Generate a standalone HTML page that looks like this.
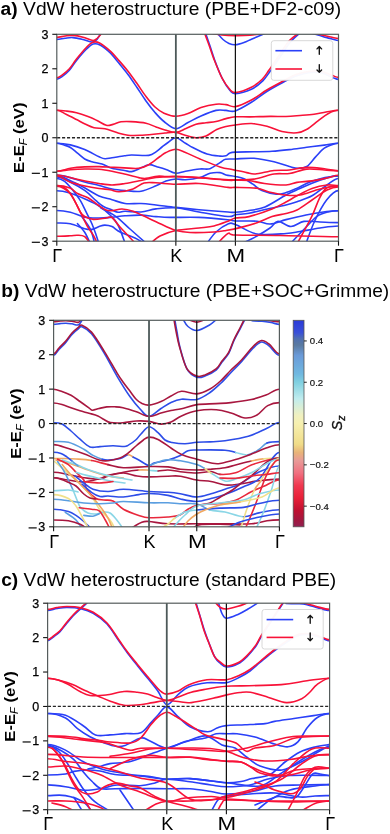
<!DOCTYPE html><html><head><meta charset="utf-8"><style>html,body{margin:0;padding:0;background:#fff;width:390px;height:834px;overflow:hidden;position:relative}</style></head><body><svg width="390" height="834" viewBox="0 0 390 834" style="position:absolute;left:0;top:0;will-change:transform">
<g font-family='"Liberation Sans", sans-serif' fill="#000">
<text x="0.6" y="14.6" font-size="18" textLength="340.5" lengthAdjust="spacingAndGlyphs"><tspan font-weight="bold">a)</tspan> VdW heterostructure (PBE+DF2-c09)</text>
<text x="1.2" y="297.4" font-size="18" textLength="388" lengthAdjust="spacingAndGlyphs"><tspan font-weight="bold">b)</tspan> VdW heterostructure (PBE+SOC+Grimme)</text>
<text x="1.2" y="585.6" font-size="18" textLength="335" lengthAdjust="spacingAndGlyphs"><tspan font-weight="bold">c)</tspan> VdW heterostructure (standard PBE)</text>
</g>
<defs><clipPath id="clipa"><rect x="56.80" y="34.30" width="281.70" height="206.90"/></clipPath></defs>
<g clip-path="url(#clipa)" fill="none" stroke-linecap="round" stroke-linejoin="round">
<path d="M56.80,39.40 C59.53,39.40 62.30,38.50 65.00,38.20 C67.70,37.90 70.00,37.38 73.00,37.60 C76.00,37.82 79.83,38.77 83.00,39.50 C86.17,40.23 89.75,41.92 92.00,42.00 C94.25,42.08 95.00,41.50 96.50,40.00 C98.00,38.50 100.25,34.17 101.00,33.00" stroke="#2a40f8" stroke-width="1.60"/>
<path d="M56.80,79.20 C58.43,79.20 59.60,78.40 61.70,76.90 C63.80,75.40 66.93,72.93 69.40,70.20 C71.87,67.47 73.60,64.07 76.50,60.50 C79.40,56.93 84.05,51.55 86.80,48.80 C89.55,46.05 90.80,44.63 93.00,44.00 C95.20,43.37 97.17,43.55 100.00,45.00 C102.83,46.45 106.83,49.65 110.00,52.70 C113.17,55.75 116.00,59.67 119.00,63.30 C122.00,66.93 125.00,70.47 128.00,74.50 C131.00,78.53 134.00,83.08 137.00,87.50 C140.00,91.92 143.00,96.83 146.00,101.00 C149.00,105.17 152.00,109.08 155.00,112.50 C158.00,115.92 160.53,118.82 164.00,121.50 C167.47,124.18 171.85,128.43 175.85,128.60 C179.85,128.77 183.81,124.60 188.00,122.50 C192.19,120.40 196.33,118.02 201.00,116.00 C205.67,113.98 211.83,111.33 216.00,110.40 C220.17,109.47 222.77,110.32 226.00,110.40 C229.23,110.48 231.17,112.25 235.40,110.90 C239.63,109.55 246.17,105.53 251.40,102.30 C256.63,99.07 261.42,94.88 266.80,91.50 C272.18,88.12 278.83,84.58 283.70,82.00 C288.57,79.42 291.62,77.58 296.00,76.00 C300.38,74.42 305.67,73.00 310.00,72.50 C314.33,72.00 318.25,72.18 322.00,73.00 C325.75,73.82 329.75,76.33 332.50,77.40 C335.25,78.47 336.50,79.40 338.50,79.40" stroke="#2a40f8" stroke-width="1.60"/>
<path d="M205.50,33.00 C206.25,35.17 208.42,41.33 210.00,46.00 C211.58,50.67 212.92,55.50 215.00,61.00 C217.08,66.50 220.00,74.08 222.50,79.00 C225.00,83.92 227.85,88.07 230.00,90.50 C232.15,92.93 231.83,93.82 235.40,93.60 C238.97,93.38 246.83,91.33 251.40,89.20 C255.97,87.07 259.70,83.75 262.80,80.80 C265.90,77.85 267.13,75.47 270.00,71.50 C272.87,67.53 276.67,61.83 280.00,57.00 C283.33,52.17 286.67,46.50 290.00,42.50 C293.33,38.50 298.33,34.58 300.00,33.00" stroke="#2a40f8" stroke-width="1.60"/>
<path d="M217.00,33.00 C218.00,34.08 221.00,37.75 223.00,39.50 C225.00,41.25 226.93,42.62 229.00,43.50 C231.07,44.38 232.90,44.97 235.40,44.80 C237.90,44.63 241.23,43.47 244.00,42.50 C246.77,41.53 248.33,40.58 252.00,39.00 C255.67,37.42 263.67,34.00 266.00,33.00" stroke="#2a40f8" stroke-width="1.60"/>
<path d="M310.00,33.00 C311.33,33.33 315.30,34.25 318.00,35.00 C320.70,35.75 323.87,36.83 326.20,37.50 C328.53,38.17 329.95,38.50 332.00,39.00 C334.05,39.50 336.33,40.50 338.50,40.50" stroke="#2a40f8" stroke-width="1.60"/>
<path d="M56.80,143.20 C61.33,143.20 65.75,143.83 70.40,144.90 C75.05,145.97 79.92,147.62 84.70,149.60 C89.48,151.58 95.72,155.27 99.10,156.80 C102.48,158.33 102.85,158.63 105.00,158.80 C107.15,158.97 108.77,158.30 112.00,157.80 C115.23,157.30 121.15,156.27 124.40,155.80 C127.65,155.33 127.43,155.07 131.50,155.00 C135.57,154.93 144.72,155.93 148.80,155.40 C152.88,154.87 153.80,153.20 156.00,151.80 C158.20,150.40 160.00,148.55 162.00,147.00 C164.00,145.45 165.69,144.03 168.00,142.50 C170.31,140.97 172.93,137.68 175.85,137.80 C178.77,137.92 182.69,141.58 185.50,143.20 C188.31,144.82 189.12,145.70 192.70,147.50 C196.28,149.30 202.45,152.57 207.00,154.00 C211.55,155.43 216.83,155.80 220.00,156.10 C223.17,156.40 224.42,156.28 226.00,155.80 C227.58,155.32 227.93,153.82 229.50,153.20 C231.07,152.58 231.32,152.33 235.40,152.10 C239.48,151.87 247.90,151.93 254.00,151.80 C260.10,151.67 266.10,151.67 272.00,151.30 C277.90,150.93 283.60,150.27 289.40,149.60 C295.20,148.93 300.98,148.05 306.80,147.30 C312.62,146.55 319.02,145.78 324.30,145.10 C329.58,144.42 333.77,143.20 338.50,143.20" stroke="#2a40f8" stroke-width="1.60"/>
<path d="M56.80,143.20 C59.20,143.20 61.73,144.28 64.00,145.00 C66.27,145.72 68.15,146.13 70.40,147.50 C72.65,148.87 75.12,151.28 77.50,153.20 C79.88,155.12 82.30,157.57 84.70,159.00 C87.10,160.43 89.02,160.97 91.90,161.80 C94.78,162.63 98.65,162.92 102.00,164.00 C105.35,165.08 108.27,167.22 112.00,168.30 C115.73,169.38 121.15,169.95 124.40,170.50 C127.65,171.05 129.12,171.85 131.50,171.60 C133.88,171.35 135.82,170.15 138.70,169.00 C141.58,167.85 145.68,165.05 148.80,164.70 C151.92,164.35 154.53,166.10 157.40,166.90 C160.27,167.70 162.93,168.43 166.00,169.50 C169.07,170.57 172.60,173.02 175.85,173.30 C179.10,173.58 181.49,171.92 185.50,171.20 C189.51,170.48 195.82,169.42 199.90,169.00 C203.98,168.58 206.65,169.77 210.00,168.70 C213.35,167.63 217.42,164.17 220.00,162.60 C222.58,161.03 222.93,159.90 225.50,159.30 C228.07,158.70 230.65,159.17 235.40,159.00 C240.15,158.83 247.57,157.83 254.00,158.30 C260.43,158.77 268.10,160.43 274.00,161.80 C279.90,163.17 285.40,165.42 289.40,166.50 C293.40,167.58 295.10,168.30 298.00,168.30 C300.90,168.30 303.87,168.40 306.80,166.50 C309.73,164.60 312.68,159.95 315.60,156.90 C318.52,153.85 321.10,150.38 324.30,148.20 C327.50,146.02 332.43,144.63 334.80,143.80 C337.17,142.97 337.27,143.20 338.50,143.20" stroke="#2a40f8" stroke-width="1.60"/>
<path d="M56.80,175.60 C61.20,175.60 65.30,178.43 70.00,180.50 C74.70,182.57 80.17,185.42 85.00,188.00 C89.83,190.58 94.50,194.05 99.00,196.00 C103.50,197.95 107.67,198.45 112.00,199.70 C116.33,200.95 120.17,202.87 125.00,203.50 C129.83,204.13 135.83,203.25 141.00,203.50 C146.17,203.75 150.19,204.35 156.00,205.00 C161.81,205.65 168.68,206.62 175.85,207.40 C183.02,208.18 190.31,208.93 199.00,209.70 C207.69,210.47 221.93,211.57 228.00,212.00 C234.07,212.43 231.90,212.55 235.40,212.30 C238.90,212.05 244.07,211.38 249.00,210.50 C253.93,209.62 258.83,209.58 265.00,207.00 C271.17,204.42 280.67,197.87 286.00,195.00 C291.33,192.13 292.67,191.77 297.00,189.80 C301.33,187.83 307.00,185.17 312.00,183.20 C317.00,181.23 322.58,179.27 327.00,178.00 C331.42,176.73 334.67,175.60 338.50,175.60" stroke="#2a40f8" stroke-width="1.60"/>
<path d="M56.80,177.00 C61.20,177.00 65.30,179.72 70.00,182.00 C74.70,184.28 80.67,187.58 85.00,190.70 C89.33,193.82 92.93,198.07 96.00,200.70 C99.07,203.33 100.73,204.95 103.40,206.50 C106.07,208.05 109.57,209.03 112.00,210.00 C114.43,210.97 115.83,212.10 118.00,212.30 C120.17,212.50 121.17,211.25 125.00,211.20 C128.83,211.15 135.83,212.38 141.00,212.00 C146.17,211.62 150.19,209.60 156.00,208.90 C161.81,208.20 168.68,207.28 175.85,207.80 C183.02,208.32 190.31,210.55 199.00,212.00 C207.69,213.45 221.93,216.03 228.00,216.50 C234.07,216.97 231.90,215.35 235.40,214.80 C238.90,214.25 244.07,214.08 249.00,213.20 C253.93,212.32 258.83,210.87 265.00,209.50 C271.17,208.13 280.67,206.30 286.00,205.00 C291.33,203.70 292.67,203.23 297.00,201.70 C301.33,200.17 307.00,198.58 312.00,195.80 C317.00,193.02 322.58,187.88 327.00,185.00 C331.42,182.12 334.67,178.50 338.50,178.50" stroke="#2a40f8" stroke-width="1.60"/>
<path d="M56.80,178.50 C59.40,178.50 61.87,179.27 64.60,181.30 C67.33,183.33 70.57,187.47 73.20,190.70 C75.83,193.93 78.23,197.12 80.40,200.70 C82.57,204.28 84.28,208.37 86.20,212.20 C88.12,216.03 90.23,219.87 91.90,223.70 C93.57,227.53 95.02,231.82 96.20,235.20 C97.38,238.58 98.53,242.53 99.00,244.00" stroke="#2a40f8" stroke-width="1.60"/>
<path d="M77.50,223.70 C78.70,225.13 82.53,228.92 84.70,232.30 C86.87,235.68 89.53,242.05 90.50,244.00" stroke="#2a40f8" stroke-width="1.60"/>
<path d="M81.80,216.50 C83.25,218.65 88.33,224.82 90.50,229.40 C92.67,233.98 94.08,241.57 94.80,244.00" stroke="#2a40f8" stroke-width="1.60"/>
<path d="M56.80,190.70 C61.20,190.70 65.30,191.62 70.00,193.00 C74.70,194.38 80.17,196.83 85.00,199.00 C89.83,201.17 94.83,203.33 99.00,206.00 C103.17,208.67 106.83,211.83 110.00,215.00 C113.17,218.17 115.43,220.17 118.00,225.00 C120.57,229.83 124.17,240.83 125.40,244.00" stroke="#2a40f8" stroke-width="1.60"/>
<path d="M101.00,208.00 C103.50,209.43 111.17,213.10 116.00,216.60 C120.83,220.10 124.83,224.43 130.00,229.00 C135.17,233.57 144.17,241.50 147.00,244.00" stroke="#2a40f8" stroke-width="1.60"/>
<path d="M56.80,210.50 C61.33,210.50 65.75,211.08 70.40,212.20 C75.05,213.32 79.93,216.23 84.70,217.20 C89.47,218.17 94.45,218.00 99.00,218.00 C103.55,218.00 107.67,217.57 112.00,217.20 C116.33,216.83 120.17,216.15 125.00,215.80 C129.83,215.45 135.83,214.97 141.00,215.10 C146.17,215.23 151.17,216.22 156.00,216.60 C160.83,216.98 162.83,217.27 170.00,217.40 C177.17,217.53 189.33,217.02 199.00,217.40 C208.67,217.78 221.93,219.10 228.00,219.70 C234.07,220.30 230.57,220.75 235.40,221.00 C240.23,221.25 251.23,220.70 257.00,221.20 C262.77,221.70 265.17,224.27 270.00,224.00 C274.83,223.73 280.00,221.10 286.00,219.60 C292.00,218.10 299.23,216.35 306.00,215.00 C312.77,213.65 321.18,212.22 326.60,211.50 C332.02,210.78 334.53,210.70 338.50,210.70" stroke="#2a40f8" stroke-width="1.60"/>
<path d="M56.80,223.00 C61.33,223.00 65.75,222.75 70.40,223.70 C75.05,224.65 81.10,227.75 84.70,228.70 C88.30,229.65 89.60,229.75 92.00,229.40 C94.40,229.05 96.97,227.32 99.10,226.60 C101.23,225.88 102.65,225.10 104.80,225.10 C106.95,225.10 109.47,225.45 112.00,226.60 C114.53,227.75 116.17,230.10 120.00,232.00 C123.83,233.90 130.83,236.00 135.00,238.00 C139.17,240.00 143.33,243.00 145.00,244.00" stroke="#2a40f8" stroke-width="1.60"/>
<path d="M241.00,244.00 C243.67,242.67 252.17,238.67 257.00,236.00 C261.83,233.33 266.50,230.43 270.00,228.00 C273.50,225.57 274.50,221.65 278.00,221.40 C281.50,221.15 286.67,226.50 291.00,226.50 C295.33,226.50 299.17,222.15 304.00,221.40 C308.83,220.65 314.25,221.80 320.00,222.00 C325.75,222.20 332.33,222.60 338.50,222.60" stroke="#2a40f8" stroke-width="1.60"/>
<path d="M206.50,244.00 C208.08,242.00 212.42,235.33 216.00,232.00 C219.58,228.67 224.77,225.25 228.00,224.00 C231.23,222.75 230.57,222.83 235.40,224.50 C240.23,226.17 248.57,232.50 257.00,234.00 C265.43,235.50 278.83,233.92 286.00,233.50 C293.17,233.08 294.33,232.42 300.00,231.50 C305.67,230.58 313.58,228.92 320.00,228.00 C326.42,227.08 332.33,226.00 338.50,226.00" stroke="#2a40f8" stroke-width="1.60"/>
<path d="M290.00,244.00 C292.78,241.08 302.20,231.12 306.70,226.50 C311.20,221.88 313.45,218.72 317.00,216.30 C320.55,213.88 324.42,212.93 328.00,212.00 C331.58,211.07 335.00,210.70 338.50,210.70" stroke="#2a40f8" stroke-width="1.60"/>
<path d="M305.80,244.00 C307.28,240.17 311.23,228.33 314.70,221.00 C318.17,213.67 322.63,205.07 326.60,200.00 C330.57,194.93 334.53,190.60 338.50,190.60" stroke="#2a40f8" stroke-width="1.60"/>
<path d="M56.80,175.00 C61.33,175.00 65.75,176.43 70.40,177.60 C75.05,178.77 79.92,180.68 84.70,182.00 C89.48,183.32 94.55,184.33 99.10,185.50 C103.65,186.67 107.68,188.17 112.00,189.00 C116.32,189.83 120.17,190.13 125.00,190.50 C129.83,190.87 135.83,191.98 141.00,191.20 C146.17,190.42 151.83,187.50 156.00,185.80 C160.17,184.10 162.69,182.13 166.00,181.00 C169.31,179.87 172.60,179.20 175.85,179.00 C179.10,178.80 181.49,180.03 185.50,179.80 C189.51,179.57 195.82,178.68 199.90,177.60 C203.98,176.52 206.65,174.13 210.00,173.30 C213.35,172.47 217.33,172.32 220.00,172.60 C222.67,172.88 223.45,174.35 226.00,175.00 C228.55,175.65 232.30,175.87 235.30,176.50 C238.30,177.13 241.07,177.52 244.00,178.80 C246.93,180.08 249.92,182.25 252.90,184.20 C255.88,186.15 258.00,188.85 261.90,190.50 C265.80,192.15 272.45,193.68 276.30,194.10 C280.15,194.52 281.72,193.90 285.00,193.00 C288.28,192.10 291.83,190.53 296.00,188.70 C300.17,186.87 305.17,183.87 310.00,182.00 C314.83,180.13 320.25,178.50 325.00,177.50 C329.75,176.50 334.00,176.00 338.50,176.00" stroke="#2a40f8" stroke-width="1.60"/>
<path d="M56.80,37.40 C59.53,37.40 62.30,36.33 65.00,36.00 C67.70,35.67 70.00,35.20 73.00,35.40 C76.00,35.60 79.67,36.35 83.00,37.20 C86.33,38.05 90.58,40.37 93.00,40.50 C95.42,40.63 96.00,39.25 97.50,38.00 C99.00,36.75 101.25,33.83 102.00,33.00" stroke="#f81238" stroke-width="1.60"/>
<path d="M56.80,77.80 C58.43,77.80 59.60,76.90 61.70,75.40 C63.80,73.90 66.93,71.53 69.40,68.80 C71.87,66.07 73.60,62.63 76.50,59.00 C79.40,55.37 84.05,49.80 86.80,47.00 C89.55,44.20 90.80,42.83 93.00,42.20 C95.20,41.57 97.17,41.75 100.00,43.20 C102.83,44.65 106.83,48.00 110.00,50.90 C113.17,53.80 116.00,57.22 119.00,60.60 C122.00,63.98 125.00,67.38 128.00,71.20 C131.00,75.02 134.00,79.28 137.00,83.50 C140.00,87.72 143.00,92.58 146.00,96.50 C149.00,100.42 152.00,104.22 155.00,107.00 C158.00,109.78 160.53,111.65 164.00,113.20 C167.47,114.75 171.85,116.23 175.85,116.30 C179.85,116.37 183.81,115.07 188.00,113.60 C192.19,112.13 196.33,109.07 201.00,107.50 C205.67,105.93 211.83,104.68 216.00,104.20 C220.17,103.72 222.77,104.20 226.00,104.60 C229.23,105.00 231.17,107.37 235.40,106.60 C239.63,105.83 246.17,102.77 251.40,100.00 C256.63,97.23 261.42,93.20 266.80,90.00 C272.18,86.80 278.83,83.38 283.70,80.80 C288.57,78.22 291.62,76.10 296.00,74.50 C300.38,72.90 305.67,71.70 310.00,71.20 C314.33,70.70 318.25,70.77 322.00,71.50 C325.75,72.23 329.75,74.62 332.50,75.60 C335.25,76.58 336.50,77.40 338.50,77.40" stroke="#f81238" stroke-width="1.60"/>
<path d="M204.50,33.00 C205.25,35.00 207.40,40.57 209.00,45.00 C210.60,49.43 211.97,54.17 214.10,59.60 C216.23,65.03 219.23,72.70 221.80,77.60 C224.37,82.50 227.23,86.52 229.50,89.00 C231.77,91.48 231.75,92.80 235.40,92.50 C239.05,92.20 246.93,89.42 251.40,87.20 C255.87,84.98 259.25,82.07 262.20,79.20 C265.15,76.33 266.30,73.95 269.10,70.00 C271.90,66.05 275.65,60.37 279.00,55.50 C282.35,50.63 285.87,44.55 289.20,40.80 C292.53,37.05 297.37,34.30 299.00,33.00" stroke="#f81238" stroke-width="1.60"/>
<path d="M210.00,33.00 C212.00,33.33 217.77,34.57 222.00,35.00 C226.23,35.43 230.73,35.57 235.40,35.60 C240.07,35.63 245.57,35.55 250.00,35.20 C254.43,34.85 260.00,33.78 262.00,33.50" stroke="#f81238" stroke-width="1.60"/>
<path d="M312.00,33.00 C313.33,33.25 317.63,34.00 320.00,34.50 C322.37,35.00 324.20,35.53 326.20,36.00 C328.20,36.47 329.95,36.88 332.00,37.30 C334.05,37.72 336.33,38.50 338.50,38.50" stroke="#f81238" stroke-width="1.60"/>
<path d="M56.80,110.30 C59.87,110.30 62.72,110.60 66.00,111.00 C69.28,111.40 72.83,111.78 76.50,112.70 C80.17,113.62 84.58,115.20 88.00,116.50 C91.42,117.80 93.95,119.03 97.00,120.50 C100.05,121.97 103.63,124.65 106.30,125.30 C108.97,125.95 110.55,124.98 113.00,124.40 C115.45,123.82 118.00,122.27 121.00,121.80 C124.00,121.33 126.83,121.37 131.00,121.60 C135.17,121.83 141.83,122.30 146.00,123.20 C150.17,124.10 152.83,125.87 156.00,127.00 C159.17,128.13 161.69,129.10 165.00,130.00 C168.31,130.90 172.35,132.65 175.85,132.40 C179.35,132.15 182.64,129.87 186.00,128.50 C189.36,127.13 192.67,125.15 196.00,124.20 C199.33,123.25 202.67,123.25 206.00,122.80 C209.33,122.35 212.67,122.20 216.00,121.50 C219.33,120.80 222.77,119.38 226.00,118.60 C229.23,117.82 231.40,117.08 235.40,116.80 C239.40,116.52 244.23,116.97 250.00,116.90 C255.77,116.83 264.00,116.47 270.00,116.40 C276.00,116.33 281.00,116.65 286.00,116.50 C291.00,116.35 295.33,115.88 300.00,115.50 C304.67,115.12 309.67,114.78 314.00,114.20 C318.33,113.62 321.92,112.65 326.00,112.00 C330.08,111.35 334.33,110.30 338.50,110.30" stroke="#f81238" stroke-width="1.60"/>
<path d="M56.80,110.30 C59.87,110.30 62.72,112.67 66.00,114.20 C69.28,115.73 73.33,117.87 76.50,119.50 C79.67,121.13 82.08,122.63 85.00,124.00 C87.92,125.37 90.67,126.90 94.00,127.70 C97.33,128.50 101.08,127.95 105.00,128.80 C108.92,129.65 113.67,131.73 117.50,132.80 C121.33,133.87 124.25,134.78 128.00,135.20 C131.75,135.62 135.33,135.50 140.00,135.30 C144.67,135.10 151.83,134.38 156.00,134.00 C160.17,133.62 161.69,133.27 165.00,133.00 C168.31,132.73 172.35,131.98 175.85,132.40 C179.35,132.82 182.64,134.60 186.00,135.50 C189.36,136.40 192.67,137.72 196.00,137.80 C199.33,137.88 202.55,137.38 206.00,136.00 C209.45,134.62 213.37,131.08 216.70,129.50 C220.03,127.92 222.88,127.25 226.00,126.50 C229.12,125.75 231.17,125.50 235.40,125.00 C239.63,124.50 246.13,123.30 251.40,123.50 C256.67,123.70 261.90,124.87 267.00,126.20 C272.10,127.53 277.00,130.40 282.00,131.50 C287.00,132.60 292.83,133.18 297.00,132.80 C301.17,132.42 303.50,131.20 307.00,129.20 C310.50,127.20 314.50,123.38 318.00,120.80 C321.50,118.22 324.58,115.45 328.00,113.70 C331.42,111.95 335.00,110.30 338.50,110.30" stroke="#f81238" stroke-width="1.60"/>
<path d="M56.80,171.20 C61.33,171.20 65.75,169.02 70.40,168.30 C75.05,167.58 79.92,167.18 84.70,166.90 C89.48,166.62 94.55,166.53 99.10,166.60 C103.65,166.67 107.78,167.08 112.00,167.30 C116.22,167.52 119.95,167.73 124.40,167.90 C128.85,168.07 134.63,168.83 138.70,168.30 C142.77,167.77 145.25,166.67 148.80,164.70 C152.35,162.73 157.13,158.53 160.00,156.50 C162.87,154.47 163.36,153.70 166.00,152.50 C168.64,151.30 172.60,149.30 175.85,149.30 C179.10,149.30 181.47,150.88 185.50,152.50 C189.53,154.12 194.25,156.60 200.00,159.00 C205.75,161.40 214.67,165.15 220.00,166.90 C225.33,168.65 229.43,168.95 232.00,169.50 C234.57,170.05 232.95,169.68 235.40,170.20 C237.85,170.72 243.38,171.97 246.70,172.60 C250.02,173.23 250.75,174.35 255.30,174.00 C259.85,173.65 268.32,171.17 274.00,170.50 C279.68,169.83 283.93,170.52 289.40,170.00 C294.87,169.48 300.98,167.60 306.80,167.40 C312.62,167.20 319.02,168.22 324.30,168.80 C329.58,169.38 333.77,170.90 338.50,170.90" stroke="#f81238" stroke-width="1.60"/>
<path d="M56.80,171.20 C61.33,171.20 65.75,170.07 70.40,169.70 C75.05,169.33 79.92,169.07 84.70,169.00 C89.48,168.93 94.55,168.93 99.10,169.30 C103.65,169.67 107.78,170.42 112.00,171.20 C116.22,171.98 119.95,172.93 124.40,174.00 C128.85,175.07 135.12,176.87 138.70,177.60 C142.28,178.33 142.78,178.63 145.90,178.40 C149.02,178.17 154.05,176.52 157.40,176.20 C160.75,175.88 162.93,176.47 166.00,176.50 C169.07,176.53 170.20,176.22 175.85,176.40 C181.50,176.58 192.54,177.13 199.90,177.60 C207.26,178.07 214.08,178.83 220.00,179.20 C225.92,179.57 229.73,179.82 235.40,179.80 C241.07,179.78 247.57,180.07 254.00,179.10 C260.43,178.13 268.10,174.93 274.00,174.00 C279.90,173.07 283.93,174.32 289.40,173.50 C294.87,172.68 300.98,169.68 306.80,169.10 C312.62,168.52 319.02,169.70 324.30,170.00 C329.58,170.30 333.77,170.90 338.50,170.90" stroke="#f81238" stroke-width="1.60"/>
<path d="M56.80,175.00 C61.20,175.00 65.30,176.50 70.00,177.50 C74.70,178.50 80.17,180.00 85.00,181.00 C89.83,182.00 94.50,182.83 99.00,183.50 C103.50,184.17 107.67,185.00 112.00,185.00 C116.33,185.00 120.17,184.25 125.00,183.50 C129.83,182.75 135.83,181.50 141.00,180.50 C146.17,179.50 150.19,178.12 156.00,177.50 C161.81,176.88 168.68,176.75 175.85,176.80 C183.02,176.85 190.31,177.23 199.00,177.80 C207.69,178.37 221.93,179.80 228.00,180.20 C234.07,180.60 231.90,180.15 235.40,180.20 C238.90,180.25 244.15,179.95 249.00,180.50 C253.85,181.05 258.33,182.75 264.50,183.50 C270.67,184.25 280.58,185.18 286.00,185.00 C291.42,184.82 292.67,183.08 297.00,182.40 C301.33,181.72 307.00,181.63 312.00,180.90 C317.00,180.17 322.58,178.95 327.00,178.00 C331.42,177.05 334.67,175.20 338.50,175.20" stroke="#f81238" stroke-width="1.60"/>
<path d="M56.80,185.60 C59.40,185.60 62.33,186.48 64.60,187.80 C66.87,189.12 68.48,190.87 70.40,193.50 C72.32,196.13 74.43,200.48 76.10,203.60 C77.77,206.72 78.97,210.05 80.40,212.20 C81.83,214.35 82.55,215.30 84.70,216.50 C86.85,217.70 89.70,219.15 93.30,219.40 C96.90,219.65 103.18,218.32 106.30,218.00 C109.42,217.68 109.72,216.00 112.00,217.50 C114.28,219.00 116.00,222.58 120.00,227.00 C124.00,231.42 133.33,241.17 136.00,244.00" stroke="#f81238" stroke-width="1.60"/>
<path d="M56.80,186.20 C59.20,186.20 61.73,187.20 64.00,188.50 C66.27,189.80 68.38,191.48 70.40,194.00 C72.42,196.52 74.20,200.08 76.10,203.60 C78.00,207.12 79.88,211.27 81.80,215.10 C83.72,218.93 85.68,223.25 87.60,226.60 C89.52,229.95 91.63,232.30 93.30,235.20 C94.97,238.10 96.88,242.53 97.60,244.00" stroke="#f81238" stroke-width="1.60"/>
<path d="M56.80,185.60 C61.20,185.60 66.55,186.68 70.00,188.00 C73.45,189.32 74.50,191.87 77.50,193.50 C80.50,195.13 84.58,195.88 88.00,197.80 C91.42,199.72 95.00,202.97 98.00,205.00 C101.00,207.03 103.67,209.07 106.00,210.00 C108.33,210.93 109.33,210.77 112.00,210.60 C114.67,210.43 118.50,208.90 122.00,209.00 C125.50,209.10 128.58,209.67 133.00,211.20 C137.42,212.73 143.17,215.73 148.50,218.20 C153.83,220.67 160.44,223.95 165.00,226.00 C169.56,228.05 171.68,229.42 175.85,230.50 C180.02,231.58 183.64,232.25 190.00,232.50 C196.36,232.75 208.00,232.33 214.00,232.00 C220.00,231.67 221.50,231.27 226.00,230.50 C230.50,229.73 235.83,228.68 241.00,227.40 C246.17,226.12 251.83,224.60 257.00,222.80 C262.17,221.00 267.17,218.15 272.00,216.60 C276.83,215.05 281.83,214.60 286.00,213.50 C290.17,212.40 292.67,212.25 297.00,210.00 C301.33,207.75 307.00,203.33 312.00,200.00 C317.00,196.67 322.58,192.17 327.00,190.00 C331.42,187.83 334.67,187.00 338.50,187.00" stroke="#f81238" stroke-width="1.60"/>
<path d="M150.00,244.00 C151.67,242.67 155.69,238.25 160.00,236.00 C164.31,233.75 169.35,231.83 175.85,230.50 C182.35,229.17 192.64,228.75 199.00,228.00 C205.36,227.25 209.17,227.13 214.00,226.00 C218.83,224.87 224.43,222.53 228.00,221.20 C231.57,219.87 231.90,218.77 235.40,218.00 C238.90,217.23 242.90,218.12 249.00,216.60 C255.10,215.08 265.83,211.33 272.00,208.90 C278.17,206.47 281.83,204.18 286.00,202.00 C290.17,199.82 292.67,198.07 297.00,195.80 C301.33,193.53 307.00,190.20 312.00,188.40 C317.00,186.60 322.58,185.47 327.00,185.00 C331.42,184.53 334.67,185.60 338.50,185.60" stroke="#f81238" stroke-width="1.60"/>
<path d="M56.80,176.00 C61.20,176.00 65.30,180.33 70.00,182.00 C74.70,183.67 80.17,184.92 85.00,186.00 C89.83,187.08 94.83,187.88 99.00,188.50 C103.17,189.12 106.67,189.17 110.00,189.70 C113.33,190.23 115.17,191.83 119.00,191.70 C122.83,191.57 128.83,190.35 133.00,188.90 C137.17,187.45 140.17,184.02 144.00,183.00 C147.83,181.98 150.69,182.58 156.00,182.80 C161.31,183.02 168.68,184.18 175.85,184.30 C183.02,184.42 190.31,182.98 199.00,183.50 C207.69,184.02 221.93,186.75 228.00,187.40 C234.07,188.05 230.57,187.27 235.40,187.40 C240.23,187.53 251.40,187.43 257.00,188.20 C262.60,188.97 264.17,190.85 269.00,192.00 C273.83,193.15 280.83,194.60 286.00,195.10 C291.17,195.60 294.33,196.02 300.00,195.00 C305.67,193.98 313.58,190.50 320.00,189.00 C326.42,187.50 332.33,186.00 338.50,186.00" stroke="#f81238" stroke-width="1.60"/>
<path d="M56.80,236.30 C61.20,236.30 66.55,235.98 70.00,235.80 C73.45,235.62 75.05,235.07 77.50,235.20 C79.95,235.33 82.53,235.13 84.70,236.60 C86.87,238.07 89.53,242.77 90.50,244.00" stroke="#f81238" stroke-width="1.60"/>
<path d="M217.00,244.00 C218.83,242.25 224.93,235.00 228.00,233.50 C231.07,232.00 226.73,234.67 235.40,235.00 C244.07,235.33 262.82,235.22 280.00,235.50 C297.18,235.78 319.00,236.70 338.50,236.70" stroke="#f81238" stroke-width="1.60"/>
<path d="M296.90,244.00 C299.37,239.43 307.98,224.13 311.70,216.60 C315.42,209.07 316.72,203.57 319.20,198.80 C321.68,194.03 323.38,190.13 326.60,188.00 C329.82,185.87 334.53,186.00 338.50,186.00" stroke="#f81238" stroke-width="1.60"/>
</g>
<line x1="175.85" y1="34.30" x2="175.85" y2="241.20" stroke="#4d5959" stroke-width="1.8"/>
<line x1="235.40" y1="34.30" x2="235.40" y2="241.20" stroke="#111" stroke-width="1.25"/>
<line x1="56.80" y1="137.75" x2="338.50" y2="137.75" stroke="#262626" stroke-width="1.3" stroke-dasharray="3.1,1.85" stroke-dashoffset="-0.3"/>
<g font-family='"Liberation Sans", sans-serif' fill="#000">
<rect x="56.80" y="34.30" width="281.70" height="206.90" fill="none" stroke="#555c5c" stroke-width="1.2"/>
<line x1="52.30" y1="241.20" x2="56.80" y2="241.20" stroke="#111" stroke-width="1.1"/>
<text x="48.50" y="245.60" text-anchor="end" font-size="12.5" stroke="#000" stroke-width="0.25">3</text>
<line x1="31.80" y1="242.30" x2="39.90" y2="242.30" stroke="#111" stroke-width="1.25"/>
<line x1="52.30" y1="206.72" x2="56.80" y2="206.72" stroke="#111" stroke-width="1.1"/>
<text x="48.50" y="211.12" text-anchor="end" font-size="12.5" stroke="#000" stroke-width="0.25">2</text>
<line x1="31.80" y1="207.82" x2="39.90" y2="207.82" stroke="#111" stroke-width="1.25"/>
<line x1="52.30" y1="172.23" x2="56.80" y2="172.23" stroke="#111" stroke-width="1.1"/>
<text x="48.50" y="176.63" text-anchor="end" font-size="12.5" stroke="#000" stroke-width="0.25">1</text>
<line x1="31.80" y1="173.33" x2="39.90" y2="173.33" stroke="#111" stroke-width="1.25"/>
<line x1="52.30" y1="137.75" x2="56.80" y2="137.75" stroke="#111" stroke-width="1.1"/>
<text x="48.50" y="142.15" text-anchor="end" font-size="12.5" stroke="#000" stroke-width="0.25">0</text>
<line x1="52.30" y1="103.27" x2="56.80" y2="103.27" stroke="#111" stroke-width="1.1"/>
<text x="48.50" y="107.67" text-anchor="end" font-size="12.5" stroke="#000" stroke-width="0.25">1</text>
<line x1="52.30" y1="68.78" x2="56.80" y2="68.78" stroke="#111" stroke-width="1.1"/>
<text x="48.50" y="73.18" text-anchor="end" font-size="12.5" stroke="#000" stroke-width="0.25">2</text>
<line x1="52.30" y1="34.30" x2="56.80" y2="34.30" stroke="#111" stroke-width="1.1"/>
<text x="48.50" y="38.70" text-anchor="end" font-size="12.5" stroke="#000" stroke-width="0.25">3</text>
<line x1="56.80" y1="241.20" x2="56.80" y2="245.70" stroke="#111" stroke-width="1.1"/>
<text x="57.30" y="261.90" text-anchor="middle" font-size="18">Γ</text>
<line x1="175.85" y1="241.20" x2="175.85" y2="245.70" stroke="#111" stroke-width="1.1"/>
<text x="176.35" y="261.90" text-anchor="middle" font-size="18">K</text>
<line x1="235.40" y1="241.20" x2="235.40" y2="245.70" stroke="#111" stroke-width="1.1"/>
<text x="235.90" y="261.90" text-anchor="middle" font-size="18" textLength="18.6" lengthAdjust="spacingAndGlyphs">M</text>
<line x1="338.50" y1="241.20" x2="338.50" y2="245.70" stroke="#111" stroke-width="1.1"/>
<text x="339.00" y="261.90" text-anchor="middle" font-size="18">Γ</text>
<text transform="translate(24.30,137.75) rotate(-90)" x="-35.2" font-size="15" font-weight="bold" textLength="70.4" lengthAdjust="spacingAndGlyphs">E-E<tspan font-size="10" font-style="italic" font-weight="normal" dy="2.5">F</tspan><tspan dy="-2.5"> (eV)</tspan></text>
</g>
<defs><clipPath id="clipb"><rect x="53.60" y="320.30" width="225.80" height="206.50"/></clipPath></defs>
<g clip-path="url(#clipb)" fill="none" stroke-linecap="round" stroke-linejoin="round">
<path d="M53.60,321.81 C55.73,321.81 57.93,321.21 60.00,321.01 C62.07,320.81 64.00,320.58 66.00,320.61 C68.00,320.64 69.90,320.93 72.00,321.21 C74.10,321.49 76.93,322.76 78.60,322.31 C80.27,321.86 81.43,319.14 82.00,318.51" stroke="#a8173f" stroke-width="1.60"/>
<path d="M53.60,324.41 C55.73,324.41 57.93,323.81 60.00,323.61 C62.07,323.41 64.00,323.18 66.00,323.21 C68.00,323.24 69.90,323.54 72.00,323.81 C74.10,324.08 76.77,325.69 78.60,324.81 C80.43,323.93 82.27,319.56 83.00,318.51" stroke="#2d4de8" stroke-width="1.60"/>
<path d="M53.60,355.21 C55.40,355.21 56.97,351.54 59.00,349.41 C61.03,347.27 63.63,344.91 65.80,342.41 C67.97,339.91 69.87,336.71 72.00,334.41 C74.13,332.11 76.93,329.88 78.60,328.61 C80.27,327.34 79.85,325.94 82.00,326.81 C84.15,327.68 87.78,329.39 91.50,333.81 C95.22,338.22 100.03,346.22 104.30,353.31 C108.57,360.39 112.83,369.11 117.10,376.30 C121.37,383.50 126.00,390.97 129.90,396.50 C133.80,402.04 137.32,406.17 140.50,409.50 C143.68,412.83 145.58,416.67 149.00,416.50 C152.42,416.33 157.33,410.83 161.00,408.50 C164.67,406.17 167.58,404.05 171.00,402.50 C174.42,400.95 177.20,399.70 181.50,399.20 C185.80,398.70 192.05,400.62 196.80,399.50 C201.55,398.39 206.05,395.17 210.00,392.50 C213.95,389.84 217.00,386.84 220.50,383.50 C224.00,380.17 227.58,376.04 231.00,372.50 C234.42,368.97 237.28,366.39 241.00,362.31 C244.72,358.22 249.88,351.39 253.30,348.01 C256.72,344.62 258.88,342.37 261.50,342.01 C264.12,341.64 266.02,343.61 269.00,345.81 C271.98,348.01 275.93,355.21 279.40,355.21" stroke="#2d4de8" stroke-width="1.60"/>
<path d="M53.60,353.91 C55.40,353.91 56.97,350.16 59.00,348.01 C61.03,345.86 63.63,343.51 65.80,341.01 C67.97,338.51 69.87,335.34 72.00,333.01 C74.13,330.68 76.93,328.31 78.60,327.01 C80.27,325.71 79.85,324.36 82.00,325.21 C84.15,326.06 87.78,327.76 91.50,332.11 C95.22,336.46 100.03,344.47 104.30,351.31 C108.57,358.14 113.98,367.99 117.10,373.10 C120.22,378.22 120.87,379.00 123.00,382.00 C125.13,385.00 127.67,388.19 129.90,391.10 C132.13,394.02 134.38,397.44 136.40,399.50 C138.42,401.57 139.90,402.57 142.00,403.50 C144.10,404.44 145.83,405.44 149.00,405.10 C152.17,404.77 157.33,403.02 161.00,401.50 C164.67,399.99 167.58,397.70 171.00,396.00 C174.42,394.30 177.20,391.65 181.50,391.30 C185.80,390.95 192.05,394.29 196.80,393.90 C201.55,393.52 206.05,391.15 210.00,389.00 C213.95,386.85 217.00,384.17 220.50,381.00 C224.00,377.84 227.58,373.42 231.00,370.01 C234.42,366.59 237.28,364.47 241.00,360.51 C244.72,356.54 249.88,349.54 253.30,346.21 C256.72,342.87 258.88,340.87 261.50,340.51 C264.12,340.14 266.02,341.77 269.00,344.01 C271.98,346.24 275.93,353.91 279.40,353.91" stroke="#a8173f" stroke-width="1.60"/>
<path d="M174.60,318.51 C175.00,320.76 176.10,327.18 177.00,332.01 C177.90,336.84 178.30,341.29 180.00,347.51 C181.70,353.72 184.40,364.36 187.20,369.31 C190.00,374.25 193.83,376.09 196.80,377.20 C199.77,378.32 201.73,377.24 205.00,376.00 C208.27,374.77 213.57,372.14 216.40,369.81 C219.23,367.47 219.95,364.76 222.00,362.01 C224.05,359.26 226.73,356.81 228.70,353.31 C230.67,349.81 231.92,345.06 233.80,341.01 C235.68,336.96 238.07,332.76 240.00,329.01 C241.93,325.26 244.50,320.26 245.40,318.51" stroke="#2d4de8" stroke-width="1.60"/>
<path d="M173.80,318.51 C174.20,320.76 175.25,327.31 176.20,332.01 C177.15,336.71 177.75,340.66 179.50,346.71 C181.25,352.76 183.82,363.41 186.70,368.31 C189.58,373.20 193.75,374.99 196.80,376.10 C199.85,377.22 201.73,376.24 205.00,375.00 C208.27,373.77 213.57,371.04 216.40,368.71 C219.23,366.37 219.95,363.74 222.00,361.01 C224.05,358.27 226.73,355.81 228.70,352.31 C230.67,348.81 231.92,344.06 233.80,340.01 C235.68,335.96 238.20,331.59 240.00,328.01 C241.80,324.43 243.83,320.09 244.60,318.51" stroke="#a8173f" stroke-width="1.60"/>
<path d="M183.00,319.01 C183.83,320.26 185.70,324.59 188.00,326.51 C190.30,328.43 193.27,330.73 196.80,330.51 C200.33,330.29 205.83,327.13 209.20,325.21 C212.57,323.29 215.70,320.04 217.00,319.01" stroke="#2d4de8" stroke-width="1.60"/>
<path d="M187.00,319.01 C188.63,319.54 193.63,322.21 196.80,322.21 C199.97,322.21 204.47,319.54 206.00,319.01" stroke="#a8173f" stroke-width="1.60"/>
<path d="M249.20,320.01 C251.00,320.01 256.53,319.88 260.00,320.01 C263.47,320.14 266.77,320.51 270.00,320.81 C273.23,321.11 276.27,321.81 279.40,321.81" stroke="#a8173f" stroke-width="1.60"/>
<path d="M252.00,320.81 C253.67,320.88 258.83,320.93 262.00,321.21 C265.17,321.49 268.10,321.98 271.00,322.51 C273.90,323.04 276.60,324.41 279.40,324.41" stroke="#2d4de8" stroke-width="1.60"/>
<path d="M53.60,389.30 C56.40,389.30 59.10,390.50 62.00,391.50 C64.90,392.50 68.00,393.64 71.00,395.30 C74.00,396.97 77.02,399.42 80.00,401.50 C82.98,403.59 86.82,406.35 88.90,407.80 C90.98,409.25 90.82,410.08 92.50,410.20 C94.18,410.32 96.62,409.05 99.00,408.50 C101.38,407.95 104.13,407.18 106.80,406.90 C109.47,406.62 112.30,406.65 115.00,406.80 C117.70,406.95 119.43,406.97 123.00,407.80 C126.57,408.63 132.07,410.35 136.40,411.80 C140.73,413.25 144.90,416.30 149.00,416.50 C153.10,416.70 157.33,414.00 161.00,413.00 C164.67,412.00 167.58,411.22 171.00,410.50 C174.42,409.78 177.20,409.68 181.50,408.70 C185.80,407.72 191.05,405.45 196.80,404.60 C202.55,403.75 210.33,403.94 216.00,403.60 C221.67,403.27 224.92,403.29 230.80,402.60 C236.68,401.92 245.43,400.77 251.30,399.50 C257.17,398.24 261.32,396.72 266.00,395.00 C270.68,393.29 274.93,389.20 279.40,389.20" stroke="#a8173f" stroke-width="1.60"/>
<path d="M53.60,403.00 C56.40,403.00 59.10,403.70 62.00,404.50 C64.90,405.30 68.00,406.75 71.00,407.80 C74.00,408.85 77.02,409.90 80.00,410.80 C82.98,411.70 85.92,412.35 88.90,413.20 C91.88,414.05 95.38,414.85 97.90,415.90 C100.42,416.95 101.92,418.40 104.00,419.50 C106.08,420.60 107.23,421.95 110.40,422.50 C113.57,423.05 118.67,423.05 123.00,422.80 C127.33,422.55 132.07,421.23 136.40,421.00 C140.73,420.77 144.90,420.88 149.00,421.40 C153.10,421.92 157.33,424.00 161.00,424.10 C164.67,424.20 167.58,423.37 171.00,422.00 C174.42,420.63 177.20,417.77 181.50,415.90 C185.80,414.03 190.98,411.83 196.80,410.80 C202.62,409.77 210.70,409.33 216.40,409.70 C222.10,410.07 226.23,411.62 231.00,413.00 C235.77,414.38 240.67,417.67 245.00,418.00 C249.33,418.33 253.22,417.07 257.00,415.00 C260.78,412.93 263.97,407.67 267.70,405.60 C271.43,403.54 275.50,402.60 279.40,402.60" stroke="#a8173f" stroke-width="1.60"/>
<path d="M53.60,422.70 C56.40,422.70 59.10,422.62 62.00,424.00 C64.90,425.38 68.00,428.47 71.00,431.00 C74.00,433.53 76.85,436.55 80.00,439.20 C83.15,441.85 86.57,445.66 89.90,446.90 C93.23,448.13 96.15,446.78 100.00,446.60 C103.85,446.41 109.00,445.81 113.00,445.80 C117.00,445.78 121.50,446.56 124.00,446.50 C126.50,446.43 126.05,446.48 128.00,445.40 C129.95,444.31 133.53,441.90 135.70,440.00 C137.87,438.10 138.78,436.20 141.00,434.00 C143.22,431.80 146.17,427.03 149.00,426.80 C151.83,426.57 155.33,430.40 158.00,432.60 C160.67,434.80 162.67,438.35 165.00,440.00 C167.33,441.65 168.67,441.86 172.00,442.50 C175.33,443.13 180.87,443.83 185.00,443.80 C189.13,443.76 192.63,442.61 196.80,442.30 C200.97,441.98 205.30,442.15 210.00,441.90 C214.70,441.65 218.62,441.73 225.00,440.80 C231.38,439.87 241.30,438.40 248.30,436.30 C255.30,434.20 261.82,430.50 267.00,428.20 C272.18,425.90 275.27,422.50 279.40,422.50" stroke="#2d4de8" stroke-width="1.60"/>
<path d="M53.60,441.50 C58.53,441.50 63.37,441.01 68.40,442.30 C73.43,443.58 79.70,447.01 83.80,449.20 C87.90,451.38 89.93,453.73 93.00,455.40 C96.07,457.06 99.70,458.43 102.20,459.20" stroke="#5a9ee0" stroke-width="1.60"/>
<path d="M102.20,459.20 C104.70,459.96 104.98,460.11 108.00,460.00 C111.02,459.88 116.97,459.40 120.30,458.50 C123.63,457.60 125.88,454.85 128.00,454.60" stroke="#2d4de8" stroke-width="1.60"/>
<path d="M128.00,454.60 C130.12,454.35 131.20,456.10 133.00,457.00" stroke="#f0a860" stroke-width="1.60"/>
<path d="M133.00,457.00 C134.80,457.90 136.13,458.53 138.80,460.00 C141.47,461.46 146.47,465.30 149.00,465.80 C151.53,466.30 150.83,463.96 154.00,463.00 C157.17,462.03 163.60,461.26 168.00,460.00 C172.40,458.73 177.07,456.93 180.40,455.40 C183.73,453.86 185.27,451.70 188.00,450.80 C190.73,449.90 190.63,450.10 196.80,450.00 C202.97,449.90 218.53,449.78 225.00,450.20 C231.47,450.61 231.77,451.71 235.60,452.50" stroke="#2d4de8" stroke-width="1.60"/>
<path d="M235.60,452.50 C239.43,453.28 244.10,455.41 248.00,454.90" stroke="#8ad6e6" stroke-width="1.60"/>
<path d="M248.00,454.90 C251.90,454.38 255.83,451.36 259.00,449.40 C262.17,447.43 263.60,444.40 267.00,443.10" stroke="#5a9ee0" stroke-width="1.60"/>
<path d="M267.00,443.10 C270.40,441.80 275.27,441.60 279.40,441.60" stroke="#2d4de8" stroke-width="1.60"/>
<path d="M53.60,444.60 C58.53,444.60 63.37,446.96 68.40,448.50 C73.43,450.03 78.67,451.88 83.80,453.80 C88.93,455.71 95.17,458.83 99.20,460.00 C103.23,461.16 104.53,461.13 108.00,460.80 C111.47,460.46 117.00,459.03 120.00,458.00 C123.00,456.96 124.33,455.68 126.00,454.60 C127.67,453.51 128.33,452.93 130.00,451.50 C131.67,450.06 133.77,447.91 136.00,446.00 C138.23,444.08 141.23,441.48 143.40,440.00 C145.57,438.52 146.57,437.18 149.00,437.10 C151.43,437.02 154.28,437.65 158.00,439.50 C161.72,441.35 167.38,445.71 171.30,448.20 C175.22,450.68 177.25,452.56 181.50,454.40 C185.75,456.23 191.85,457.76 196.80,459.20 C201.75,460.63 207.33,462.28 211.20,463.00 C215.07,463.71 215.93,464.06 220.00,463.50 C224.07,462.93 230.38,461.16 235.60,459.60 C240.82,458.03 246.07,456.06 251.30,454.10 C256.53,452.13 262.32,449.36 267.00,447.80 C271.68,446.23 275.27,444.70 279.40,444.70" stroke="#a8173f" stroke-width="1.60"/>
<path d="M53.60,458.50 C56.47,458.50 58.47,458.41 62.20,458.50 C65.93,458.58 71.12,458.66 76.00,459.00 C80.88,459.33 86.17,459.56 91.50,460.50" stroke="#f0a860" stroke-width="1.60"/>
<path d="M91.50,460.50 C96.83,461.43 102.68,463.40 108.00,464.60" stroke="#e8283c" stroke-width="1.60"/>
<path d="M108.00,464.60 C113.32,465.80 116.57,467.38 123.40,467.70 C130.23,468.01 141.57,466.63 149.00,466.50 C156.43,466.36 162.77,466.45 168.00,466.90 C173.23,467.35 175.60,468.68 180.40,469.20 C185.20,469.71 191.70,470.00 196.80,470.00 C201.90,470.00 206.30,469.58 211.00,469.20 C215.70,468.81 220.90,468.40 225.00,467.70 C229.10,467.00 231.22,466.11 235.60,465.00 C239.98,463.88 246.60,462.03 251.30,461.00" stroke="#a8173f" stroke-width="1.60"/>
<path d="M251.30,461.00 C256.00,459.96 259.12,459.30 263.80,458.80" stroke="#f0a860" stroke-width="1.60"/>
<path d="M263.80,458.80 C268.48,458.30 274.20,458.00 279.40,458.00" stroke="#efe08a" stroke-width="1.60"/>
<path d="M53.60,472.30 C58.53,472.30 63.37,473.70 68.40,474.60 C73.43,475.49 78.67,476.93 83.80,477.69 C88.93,478.46 95.17,479.44 99.20,479.19 C103.23,478.94 103.97,477.34 108.00,476.19 C112.03,475.05 118.27,473.33 123.40,472.30 C128.53,471.26 134.53,470.35 138.80,470.00" stroke="#a8173f" stroke-width="1.60"/>
<path d="M138.80,470.00 C143.07,469.65 145.80,470.03 149.00,470.20" stroke="#f0a860" stroke-width="1.60"/>
<path d="M149.00,470.20 C152.20,470.36 154.83,471.03 158.00,471.00" stroke="#8ad6e6" stroke-width="1.60"/>
<path d="M158.00,471.00 C161.17,470.96 164.27,469.88 168.00,470.00 C171.73,470.11 175.60,471.20 180.40,471.70 C185.20,472.20 191.70,473.03 196.80,473.00 C201.90,472.96 207.13,471.26 211.00,471.50 C214.87,471.73 215.90,474.18 220.00,474.40" stroke="#a8173f" stroke-width="1.60"/>
<path d="M220.00,474.40 C224.10,474.61 230.38,474.36 235.60,472.80 C240.82,471.23 246.07,467.08 251.30,465.00 C256.53,462.91 262.32,461.46 267.00,460.30 C271.68,459.13 275.27,458.00 279.40,458.00" stroke="#e8283c" stroke-width="1.60"/>
<path d="M53.60,477.69 C58.40,477.69 62.93,479.28 68.00,479.99 C73.07,480.71 78.67,482.24 84.00,481.99 C89.33,481.74 96.00,479.59 100.00,478.49 C104.00,477.39 104.10,476.31 108.00,475.39 C111.90,474.48 118.57,472.90 123.40,473.00 C128.23,473.10 132.73,475.34 137.00,475.99 C141.27,476.64 143.83,476.86 149.00,476.89 C154.17,476.93 162.77,476.31 168.00,476.19 C173.23,476.08 175.60,475.56 180.40,476.19 C185.20,476.83 191.70,479.11 196.80,479.99 C201.90,480.88 206.30,480.66 211.00,481.49 C215.70,482.33 220.17,484.58 225.00,484.99 C229.83,485.41 234.33,484.71 240.00,483.99 C245.67,483.28 252.43,481.51 259.00,480.69 C265.57,479.88 272.60,479.09 279.40,479.09" stroke="#a8173f" stroke-width="1.60"/>
<path d="M56.00,460.00 C58.07,460.50 63.77,461.58 68.40,463.00 C73.03,464.41 78.67,466.70 83.80,468.50 C88.93,470.30 94.33,472.40 99.20,473.80 C104.07,475.19 108.97,476.19 113.00,476.89 C117.03,477.59 121.67,477.81 123.40,477.99" stroke="#f0a860" stroke-width="1.60"/>
<path d="M62.20,460.00 C64.50,460.76 71.12,462.80 76.00,464.60 C80.88,466.40 86.37,469.00 91.50,470.80 C96.63,472.60 102.05,474.20 106.80,475.39 C111.55,476.59 115.80,477.23 120.00,477.99 C124.20,478.76 130.00,479.66 132.00,479.99" stroke="#8ad6e6" stroke-width="1.60"/>
<path d="M54.50,461.50 C56.30,463.05 61.72,467.71 65.30,470.80 C68.88,473.88 72.92,477.18 76.00,479.99 C79.08,482.81 81.13,484.86 83.80,487.69 C86.47,490.53 89.30,493.28 92.00,496.99 C94.70,500.71 97.00,506.16 100.00,509.99 C103.00,513.82 107.50,516.82 110.00,519.99 C112.50,523.16 114.17,527.49 115.00,528.99" stroke="#efe08a" stroke-width="1.60"/>
<path d="M57.60,461.50 C58.63,463.05 62.00,467.71 63.80,470.80 C65.60,473.88 66.87,476.79 68.40,479.99 C69.93,483.19 71.47,486.41 73.00,489.99" stroke="#5a9ee0" stroke-width="1.60"/>
<path d="M73.00,489.99 C74.53,493.58 76.32,498.54 77.60,501.49 C78.88,504.44 78.97,505.78 80.70,507.69 C82.43,509.61 85.45,511.94 88.00,512.99 C90.55,514.04 93.33,514.16 96.00,513.99 C98.67,513.82 101.67,512.16 104.00,511.99 C106.33,511.82 108.00,511.82 110.00,512.99 C112.00,514.16 113.77,516.32 116.00,518.99 C118.23,521.66 122.17,527.32 123.40,528.99" stroke="#8ad6e6" stroke-width="1.60"/>
<path d="M65.30,512.29 C67.08,513.57 73.18,517.21 76.00,519.99 C78.82,522.77 81.17,527.49 82.20,528.99" stroke="#5a9ee0" stroke-width="1.60"/>
<path d="M79.20,507.69 C81.25,507.94 88.17,508.68 91.50,509.19 C94.83,509.71 96.90,508.99 99.20,510.79 C101.50,512.59 103.50,516.96 105.30,519.99 C107.10,523.02 109.22,527.49 110.00,528.99" stroke="#e8283c" stroke-width="1.60"/>
<path d="M83.80,515.39 C85.33,515.52 90.43,516.46 93.00,516.19 C95.57,515.92 98.17,514.19 99.20,513.79" stroke="#5a9ee0" stroke-width="1.60"/>
<path d="M57.60,459.20 C59.40,460.10 65.33,462.41 68.40,464.60 C71.47,466.78 73.43,469.73 76.00,472.30 C78.57,474.86 82.00,477.18 83.80,479.99 C85.60,482.81 84.77,486.11 86.80,489.19 C88.83,492.28 93.17,496.69 96.00,498.49 C98.83,500.29 100.97,499.58 103.80,499.99 C106.63,500.41 109.73,499.46 113.00,500.99 C116.27,502.53 119.10,506.79 123.40,509.19 C127.70,511.59 134.53,513.97 138.80,515.39 C143.07,516.81 144.13,517.42 149.00,517.69 C153.87,517.96 162.83,517.44 168.00,516.99 C173.17,516.54 176.67,516.29 180.00,514.99 C183.33,513.69 185.20,510.79 188.00,509.19 C190.80,507.59 193.13,506.26 196.80,505.39 C200.47,504.53 206.13,504.31 210.00,503.99 C213.87,503.68 215.73,504.11 220.00,503.49 C224.27,502.88 230.38,502.26 235.60,500.29 C240.82,498.33 246.60,494.03 251.30,491.69 C256.00,489.36 259.12,488.24 263.80,486.29 C268.48,484.34 274.20,479.99 279.40,479.99" stroke="#e8283c" stroke-width="1.60"/>
<path d="M62.20,464.60 C63.75,466.40 68.42,472.06 71.50,475.39 C74.58,478.73 77.95,481.78 80.70,484.59 C83.45,487.41 85.62,489.73 88.00,492.29 C90.38,494.86 92.63,497.18 95.00,499.99 C97.37,502.81 100.03,506.19 102.20,509.19 C104.37,512.19 106.45,515.19 108.00,517.99 C109.55,520.79 110.67,524.16 111.50,525.99 C112.33,527.82 112.75,528.49 113.00,528.99" stroke="#f0a860" stroke-width="1.60"/>
<path d="M53.60,452.30 C56.07,452.30 58.80,452.73 61.00,453.50 C63.20,454.26 64.97,455.65 66.80,456.90 C68.63,458.15 70.13,459.48 72.00,461.00" stroke="#2d4de8" stroke-width="1.60"/>
<path d="M72.00,461.00 C73.87,462.51 77.00,465.16 78.00,466.00" stroke="#5a9ee0" stroke-width="1.60"/>
<path d="M76.00,472.30 C77.80,472.81 82.93,474.36 86.80,475.39 C90.67,476.43 94.83,477.48 99.20,478.49 C103.57,479.51 108.70,480.74 113.00,481.49 C117.30,482.24 123.00,482.74 125.00,482.99" stroke="#8ad6e6" stroke-width="1.60"/>
<path d="M53.60,477.69 C55.97,477.69 58.23,478.43 60.70,479.19 C63.17,479.96 65.85,481.16 68.40,482.29 C70.95,483.43 73.43,484.04 76.00,485.99 C78.57,487.94 81.47,491.99 83.80,493.99 C86.13,495.99 87.97,497.16 90.00,497.99 C92.03,498.83 95.00,498.83 96.00,498.99" stroke="#a8173f" stroke-width="1.60"/>
<path d="M83.80,481.49 C86.37,481.74 94.33,482.99 99.20,482.99 C104.07,482.99 110.70,481.74 113.00,481.49" stroke="#e8283c" stroke-width="1.60"/>
<path d="M53.60,519.99 C58.53,519.99 63.88,520.02 68.40,520.79 C72.92,521.56 77.60,523.22 80.70,524.59 C83.80,525.96 85.95,528.26 87.00,528.99" stroke="#a8173f" stroke-width="1.60"/>
<path d="M53.60,509.19 C58.53,509.19 64.67,510.46 68.40,511.49 C72.13,512.52 73.43,513.72 76.00,515.39 C78.57,517.06 81.22,519.22 83.80,521.49 C86.38,523.76 90.22,527.74 91.50,528.99" stroke="#2d4de8" stroke-width="1.60"/>
<path d="M53.60,499.19 C58.53,499.19 63.37,500.16 68.40,500.79 C73.43,501.43 78.67,502.49 83.80,502.99 C88.93,503.49 94.33,503.79 99.20,503.79 C104.07,503.79 108.97,503.38 113.00,502.99 C117.03,502.61 117.40,501.53 123.40,501.49 C129.40,501.46 141.57,502.58 149.00,502.79 C156.43,503.01 162.83,502.63 168.00,502.79 C173.17,502.96 175.20,503.59 180.00,503.79 C184.80,503.99 191.80,502.96 196.80,503.99 C201.80,505.03 205.30,508.66 210.00,509.99" stroke="#5a9ee0" stroke-width="1.60"/>
<path d="M210.00,509.99 C214.70,511.32 219.42,510.87 225.00,511.99 C230.58,513.11 237.83,516.54 243.50,516.69" stroke="#8ad6e6" stroke-width="1.60"/>
<path d="M243.50,516.69 C249.17,516.84 253.02,514.06 259.00,512.89 C264.98,511.72 272.60,509.69 279.40,509.69" stroke="#2d4de8" stroke-width="1.60"/>
<path d="M53.60,490.79 C58.53,490.79 64.33,489.79 68.40,489.99 C72.47,490.19 76.40,491.66 78.00,491.99" stroke="#8ad6e6" stroke-width="1.60"/>
<path d="M53.60,494.59 C58.53,494.59 64.67,496.59 68.40,498.49 C72.13,500.39 73.43,502.41 76.00,505.99 C78.57,509.58 81.63,516.16 83.80,519.99 C85.97,523.82 88.13,527.49 89.00,528.99" stroke="#efe08a" stroke-width="1.60"/>
<path d="M75.00,475.99 C76.47,477.16 80.80,480.79 83.80,482.99 C86.80,485.19 88.97,487.78 93.00,489.19 C97.03,490.61 102.93,491.49 108.00,491.49 C113.07,491.49 116.57,489.19 123.40,489.19 C130.23,489.19 141.57,490.98 149.00,491.49 C156.43,492.01 162.77,491.91 168.00,492.29 C173.23,492.68 175.60,493.01 180.40,493.79 C185.20,494.58 191.70,496.99 196.80,496.99 C201.90,496.99 206.30,495.09 211.00,493.79 C215.70,492.49 220.17,490.83 225.00,489.19 C229.83,487.56 234.33,486.86 240.00,483.99 C245.67,481.13 252.43,475.00 259.00,472.00 C265.57,469.00 272.60,466.00 279.40,466.00" stroke="#2d4de8" stroke-width="1.60"/>
<path d="M82.00,483.99 C83.58,485.38 88.50,490.21 91.50,492.29 C94.50,494.38 97.25,495.88 100.00,496.49 C102.75,497.11 104.10,495.91 108.00,495.99 C111.90,496.08 118.27,497.23 123.40,496.99 C128.53,496.76 134.53,495.18 138.80,494.59 C143.07,494.01 144.13,493.36 149.00,493.49 C153.87,493.63 162.77,494.48 168.00,495.39 C173.23,496.31 175.60,497.98 180.40,498.99 C185.20,500.01 191.70,501.58 196.80,501.49 C201.90,501.41 206.30,499.64 211.00,498.49 C215.70,497.34 219.67,496.51 225.00,494.59 C230.33,492.68 237.17,489.76 243.00,486.99 C248.83,484.23 253.93,483.74 260.00,477.99 C266.07,472.25 272.93,452.50 279.40,452.50" stroke="#2d4de8" stroke-width="1.60"/>
<path d="M130.00,528.99 C131.97,527.87 138.63,523.54 141.80,522.29 C144.97,521.04 144.63,521.24 149.00,521.49 C153.37,521.74 160.03,523.41 168.00,523.79 C175.97,524.17 187.30,523.79 196.80,523.79 C206.30,523.79 215.92,523.79 225.00,523.79 C234.08,523.79 244.30,524.31 251.30,523.79 C258.30,523.27 262.32,521.34 267.00,520.69 C271.68,520.04 275.27,519.89 279.40,519.89" stroke="#a8173f" stroke-width="1.60"/>
<path d="M192.00,528.99 C193.33,528.26 195.33,525.39 200.00,524.59 C204.67,523.79 213.33,524.12 220.00,524.19 C226.67,524.26 236.67,524.86 240.00,524.99" stroke="#a8173f" stroke-width="1.60"/>
<path d="M279.40,458.00 C275.27,458.00 271.68,458.90 267.00,461.90 C262.32,464.90 255.80,472.31 251.30,475.99 C246.80,479.68 243.13,481.66 240.00,483.99 C236.87,486.33 235.83,487.79 232.50,489.99 C229.17,492.19 223.75,495.03 220.00,497.19 C216.25,499.36 213.87,501.61 210.00,502.99 C206.13,504.38 199.00,505.08 196.80,505.49" stroke="#a8173f" stroke-width="1.60"/>
<path d="M279.40,458.80 C275.27,458.80 271.68,461.16 267.00,463.50 C262.32,465.83 256.53,470.20 251.30,472.80 C246.07,475.39 239.98,477.73 235.60,479.09 C231.22,480.46 229.10,482.01 225.00,480.99 C220.90,479.98 214.50,475.16 211.00,473.00" stroke="#8ad6e6" stroke-width="1.60"/>
<path d="M211.00,473.00 C207.50,470.83 206.37,469.40 204.00,468.00" stroke="#efe08a" stroke-width="1.60"/>
<path d="M204.00,468.00 C201.63,466.60 200.73,465.80 196.80,464.60 C192.87,463.40 185.70,461.56 180.40,460.80 C175.10,460.03 170.23,459.16 165.00,460.00 C159.77,460.83 151.67,464.83 149.00,465.80" stroke="#5a9ee0" stroke-width="1.60"/>
<path d="M279.40,458.00 C278.37,458.00 278.38,458.08 276.30,460.30 C274.22,462.51 269.62,467.68 266.90,471.30 C264.18,474.91 262.08,478.88 260.00,481.99" stroke="#efe08a" stroke-width="1.60"/>
<path d="M260.00,481.99 C257.92,485.11 256.63,485.38 254.40,489.99" stroke="#f0a860" stroke-width="1.60"/>
<path d="M254.40,489.99 C252.17,494.61 248.88,503.19 246.60,509.69 C244.32,516.19 241.68,525.77 240.70,528.99" stroke="#efe08a" stroke-width="1.60"/>
<path d="M279.40,460.00 C277.83,460.00 276.78,459.60 274.70,462.00 C272.62,464.40 269.23,469.73 266.90,474.40 C264.57,479.06 262.52,485.23 260.70,489.99 C258.88,494.76 257.93,497.99 256.00,502.99 C254.07,507.99 250.93,515.66 249.10,519.99 C247.27,524.32 245.68,527.49 245.00,528.99" stroke="#e8283c" stroke-width="1.60"/>
<path d="M279.40,466.00 C276.80,466.00 274.20,481.84 271.60,489.39 C269.00,496.94 266.40,504.69 263.80,511.29 C261.20,517.89 257.30,526.04 256.00,528.99" stroke="#8ad6e6" stroke-width="1.60"/>
<path d="M279.40,472.80 C275.23,472.80 271.58,473.86 266.90,474.40 C262.22,474.93 256.52,475.34 251.30,475.99 C246.08,476.64 240.82,477.96 235.60,478.29 C230.38,478.63 222.60,478.04 220.00,477.99" stroke="#e8283c" stroke-width="1.60"/>
<path d="M279.40,500.29 C272.60,500.29 264.98,502.31 259.00,503.49 C253.02,504.68 250.00,506.63 243.50,507.39 C237.00,508.16 227.78,507.66 220.00,508.09 C212.22,508.53 202.63,509.34 196.80,509.99" stroke="#2d4de8" stroke-width="1.60"/>
<path d="M196.80,509.99 C190.97,510.64 188.63,510.66 185.00,511.99 C181.37,513.32 177.83,515.99 175.00,517.99" stroke="#8ad6e6" stroke-width="1.60"/>
<path d="M175.00,517.99 C172.17,519.99 170.50,522.16 168.00,523.99 C165.50,525.82 161.33,528.16 160.00,528.99" stroke="#efe08a" stroke-width="1.60"/>
<path d="M279.40,489.99 C272.60,489.99 264.98,492.33 259.00,493.99 C253.02,495.66 250.00,498.49 243.50,499.99 C237.00,501.49 227.78,501.99 220.00,502.99 C212.22,503.99 202.63,503.99 196.80,505.99 C190.97,507.99 188.13,512.32 185.00,514.99 C181.87,517.66 180.17,519.66 178.00,521.99 C175.83,524.32 173.00,527.82 172.00,528.99" stroke="#8ad6e6" stroke-width="1.60"/>
<path d="M279.40,487.99 C273.60,487.99 268.57,494.66 262.00,496.99 C255.43,499.33 247.00,500.66 240.00,501.99" stroke="#efe08a" stroke-width="1.60"/>
<path d="M240.00,501.99 C233.00,503.33 225.83,503.66 220.00,504.99 C214.17,506.33 208.87,508.49 205.00,509.99 C201.13,511.49 199.63,512.16 196.80,513.99 C193.97,515.82 190.47,518.49 188.00,520.99 C185.53,523.49 183.00,527.66 182.00,528.99" stroke="#f0a860" stroke-width="1.60"/>
<path d="M225.00,528.99 C227.50,527.82 235.00,523.82 240.00,521.99 C245.00,520.16 248.43,519.32 255.00,517.99 C261.57,516.66 271.27,513.99 279.40,513.99" stroke="#2d4de8" stroke-width="1.60"/>
</g>
<line x1="149.02" y1="320.30" x2="149.02" y2="526.80" stroke="#4d5959" stroke-width="1.8"/>
<line x1="196.76" y1="320.30" x2="196.76" y2="526.80" stroke="#111" stroke-width="1.25"/>
<line x1="53.60" y1="423.55" x2="279.40" y2="423.55" stroke="#262626" stroke-width="1.3" stroke-dasharray="3.1,1.85" stroke-dashoffset="-0.3"/>
<g font-family='"Liberation Sans", sans-serif' fill="#000">
<rect x="53.60" y="320.30" width="225.80" height="206.50" fill="none" stroke="#555c5c" stroke-width="1.2"/>
<line x1="49.10" y1="526.80" x2="53.60" y2="526.80" stroke="#111" stroke-width="1.1"/>
<text x="45.30" y="531.20" text-anchor="end" font-size="12.5" stroke="#000" stroke-width="0.25">3</text>
<line x1="28.60" y1="527.90" x2="36.70" y2="527.90" stroke="#111" stroke-width="1.25"/>
<line x1="49.10" y1="492.38" x2="53.60" y2="492.38" stroke="#111" stroke-width="1.1"/>
<text x="45.30" y="496.78" text-anchor="end" font-size="12.5" stroke="#000" stroke-width="0.25">2</text>
<line x1="28.60" y1="493.48" x2="36.70" y2="493.48" stroke="#111" stroke-width="1.25"/>
<line x1="49.10" y1="457.97" x2="53.60" y2="457.97" stroke="#111" stroke-width="1.1"/>
<text x="45.30" y="462.37" text-anchor="end" font-size="12.5" stroke="#000" stroke-width="0.25">1</text>
<line x1="28.60" y1="459.07" x2="36.70" y2="459.07" stroke="#111" stroke-width="1.25"/>
<line x1="49.10" y1="423.55" x2="53.60" y2="423.55" stroke="#111" stroke-width="1.1"/>
<text x="45.30" y="427.95" text-anchor="end" font-size="12.5" stroke="#000" stroke-width="0.25">0</text>
<line x1="49.10" y1="389.13" x2="53.60" y2="389.13" stroke="#111" stroke-width="1.1"/>
<text x="45.30" y="393.53" text-anchor="end" font-size="12.5" stroke="#000" stroke-width="0.25">1</text>
<line x1="49.10" y1="354.72" x2="53.60" y2="354.72" stroke="#111" stroke-width="1.1"/>
<text x="45.30" y="359.12" text-anchor="end" font-size="12.5" stroke="#000" stroke-width="0.25">2</text>
<line x1="49.10" y1="320.30" x2="53.60" y2="320.30" stroke="#111" stroke-width="1.1"/>
<text x="45.30" y="324.70" text-anchor="end" font-size="12.5" stroke="#000" stroke-width="0.25">3</text>
<line x1="53.60" y1="526.80" x2="53.60" y2="531.30" stroke="#111" stroke-width="1.1"/>
<text x="54.10" y="547.50" text-anchor="middle" font-size="18">Γ</text>
<line x1="149.02" y1="526.80" x2="149.02" y2="531.30" stroke="#111" stroke-width="1.1"/>
<text x="149.52" y="547.50" text-anchor="middle" font-size="18">K</text>
<line x1="196.76" y1="526.80" x2="196.76" y2="531.30" stroke="#111" stroke-width="1.1"/>
<text x="197.26" y="547.50" text-anchor="middle" font-size="18" textLength="18.6" lengthAdjust="spacingAndGlyphs">M</text>
<line x1="279.40" y1="526.80" x2="279.40" y2="531.30" stroke="#111" stroke-width="1.1"/>
<text x="279.90" y="547.50" text-anchor="middle" font-size="18">Γ</text>
<text transform="translate(21.10,423.55) rotate(-90)" x="-35.2" font-size="15" font-weight="bold" textLength="70.4" lengthAdjust="spacingAndGlyphs">E-E<tspan font-size="10" font-style="italic" font-weight="normal" dy="2.5">F</tspan><tspan dy="-2.5"> (eV)</tspan></text>
</g>
<defs><clipPath id="clipc"><rect x="47.60" y="603.20" width="282.00" height="206.50"/></clipPath></defs>
<g clip-path="url(#clipc)" fill="none" stroke-linecap="round" stroke-linejoin="round">
<path d="M47.60,610.41 C50.73,610.41 53.77,608.99 57.00,608.51 C60.23,608.03 63.03,607.48 67.00,607.51 C70.97,607.54 76.43,607.74 80.80,608.71 C85.17,609.68 88.83,610.76 93.20,613.31 C97.57,615.86 102.70,619.39 107.00,624.01 C111.30,628.62 115.58,636.17 119.00,641.01 C122.42,645.84 124.45,648.92 127.50,653.01 C130.55,657.09 133.97,661.34 137.30,665.50 C140.63,669.67 144.08,673.75 147.50,678.00 C150.92,682.25 154.58,686.57 157.80,691.00 C161.02,695.43 163.38,704.05 166.80,704.60 C170.22,705.15 174.68,697.23 178.30,694.30 C181.92,691.37 183.72,688.92 188.50,687.00 C193.28,685.09 200.65,683.54 207.00,682.80 C213.35,682.07 221.10,683.57 226.60,682.60 C232.10,681.64 236.10,678.94 240.00,677.00 C243.90,675.07 246.67,673.42 250.00,671.00 C253.33,668.59 256.00,665.84 260.00,662.50 C264.00,659.17 269.00,654.76 274.00,651.01 C279.00,647.26 285.67,642.67 290.00,640.01 C294.33,637.34 296.33,635.84 300.00,635.01 C303.67,634.17 308.03,634.34 312.00,635.01 C315.97,635.67 320.87,638.04 323.80,639.01 C326.73,639.97 327.67,640.81 329.60,640.81" stroke="#2a40f8" stroke-width="1.60"/>
<path d="M47.60,640.61 C49.73,640.61 51.93,638.01 54.00,636.51 C56.07,635.01 57.83,633.86 60.00,631.61 C62.17,629.36 64.67,625.77 67.00,623.01 C69.33,620.24 71.67,617.43 74.00,615.01 C76.33,612.59 78.67,610.68 81.00,608.51 C83.33,606.34 86.83,603.09 88.00,602.01" stroke="#2a40f8" stroke-width="1.60"/>
<path d="M195.50,601.01 C196.25,603.51 198.45,610.93 200.00,616.01 C201.55,621.09 203.30,627.01 204.80,631.51 C206.30,636.01 207.33,638.76 209.00,643.01 C210.67,647.26 212.97,653.67 214.80,657.00 C216.63,660.34 218.03,661.34 220.00,663.00 C221.97,664.67 223.60,666.87 226.60,667.00 C229.60,667.14 234.60,665.54 238.00,663.80 C241.40,662.07 244.00,659.59 247.00,656.60 C250.00,653.62 253.67,649.17 256.00,645.91 C258.33,642.64 258.67,640.82 261.00,637.01 C263.33,633.19 266.67,628.14 270.00,623.01 C273.33,617.88 278.67,609.71 281.00,606.21 C283.33,602.71 283.50,602.71 284.00,602.01" stroke="#2a40f8" stroke-width="1.60"/>
<path d="M218.00,601.01 C218.67,603.09 220.57,610.63 222.00,613.51 C223.43,616.39 223.93,618.16 226.60,618.31 C229.27,618.46 234.43,615.96 238.00,614.41 C241.57,612.86 245.00,610.74 248.00,609.01 C251.00,607.28 254.17,605.18 256.00,604.01 C257.83,602.84 258.50,602.34 259.00,602.01" stroke="#2a40f8" stroke-width="1.60"/>
<path d="M286.00,603.51 C287.50,603.56 292.12,603.73 295.00,603.81 C297.88,603.89 299.87,603.44 303.30,604.01 C306.73,604.58 311.22,606.14 315.60,607.21 C319.98,608.28 324.93,610.41 329.60,610.41" stroke="#2a40f8" stroke-width="1.60"/>
<path d="M47.60,713.50 C53.57,713.50 59.52,713.22 65.50,715.30 C71.48,717.38 78.50,722.72 83.50,726.00 C88.50,729.28 91.08,733.51 95.50,735.00 C99.92,736.48 105.08,735.13 110.00,734.90 C114.92,734.66 119.87,733.95 125.00,733.60 C130.13,733.25 136.47,734.63 140.80,732.80 C145.13,730.96 148.13,725.56 151.00,722.60 C153.87,719.63 155.37,717.67 158.00,715.00 C160.63,712.33 163.52,706.37 166.80,706.60 C170.08,706.83 173.83,713.05 177.70,716.40 C181.57,719.75 185.02,724.13 190.00,726.70 C194.98,729.26 203.10,731.58 207.60,731.80 C212.10,732.01 213.93,729.03 217.00,728.00 C220.07,726.96 221.33,726.13 226.00,725.60 C230.67,725.06 238.50,725.13 245.00,724.80 C251.50,724.46 260.08,724.16 265.00,723.60 C269.92,723.03 269.67,722.25 274.50,721.40 C279.33,720.55 287.50,719.47 294.00,718.50 C300.50,717.53 307.57,716.43 313.50,715.60 C319.43,714.77 324.23,713.50 329.60,713.50" stroke="#2a40f8" stroke-width="1.60"/>
<path d="M47.60,713.50 C53.57,713.50 60.52,715.47 65.50,718.00 C70.48,720.53 73.42,725.56 77.50,728.70 C81.58,731.83 85.52,734.41 90.00,736.80 C94.48,739.18 99.90,741.38 104.40,743.00 C108.90,744.61 113.57,746.08 117.00,746.50 C120.43,746.91 121.03,746.91 125.00,745.50 C128.97,744.08 136.63,738.75 140.80,738.00 C144.97,737.25 145.67,739.30 150.00,741.00 C154.33,742.70 160.97,748.11 166.80,748.20 C172.63,748.28 178.55,743.20 185.00,741.50 C191.45,739.80 200.33,739.28 205.50,738.00 C210.67,736.71 212.48,734.50 216.00,733.80 C219.52,733.10 223.10,733.80 226.60,733.80 C230.10,733.80 232.27,733.26 237.00,733.80 C241.73,734.33 248.75,735.30 255.00,737.00 C261.25,738.70 269.00,742.36 274.50,744.00 C280.00,745.63 284.10,747.15 288.00,746.80 C291.90,746.45 294.63,745.15 297.90,741.90 C301.17,738.65 304.35,731.36 307.60,727.30 C310.85,723.23 313.73,719.78 317.40,717.50 C321.07,715.22 325.53,713.60 329.60,713.60" stroke="#2a40f8" stroke-width="1.60"/>
<path d="M88.00,768.99 C90.00,768.58 96.33,767.39 100.00,766.49 C103.67,765.59 104.92,764.43 110.00,763.59 C115.08,762.76 123.83,763.04 130.50,761.49 C137.17,759.94 143.95,756.51 150.00,754.30 C156.05,752.08 160.97,750.25 166.80,748.20 C172.63,746.15 178.55,744.05 185.00,742.00 C191.45,739.95 199.33,735.40 205.50,735.90 C211.67,736.40 217.08,742.98 222.00,745.00 C226.92,747.01 230.92,746.00 235.00,748.00 C239.08,750.00 242.33,754.00 246.50,757.00 C250.67,759.99 254.08,763.83 260.00,765.99 C265.92,768.16 274.67,770.91 282.00,769.99 C289.33,769.08 298.00,763.49 304.00,760.49 C310.00,757.50 313.73,754.25 318.00,752.00 C322.27,749.75 325.73,747.00 329.60,747.00" stroke="#2a40f8" stroke-width="1.60"/>
<path d="M47.60,746.30 C51.00,746.30 54.90,748.56 57.80,750.80 C60.70,753.03 62.32,755.81 65.00,759.69 C67.68,763.58 70.92,769.29 73.90,774.09 C76.88,778.89 79.90,784.31 82.90,788.49 C85.90,792.67 89.22,796.51 91.90,799.19 C94.58,801.87 95.72,802.46 99.00,804.59 C102.28,806.72 109.50,810.76 111.60,811.99" stroke="#2a40f8" stroke-width="1.60"/>
<path d="M73.90,797.39 C75.40,799.82 81.40,809.56 82.90,811.99" stroke="#2a40f8" stroke-width="1.60"/>
<path d="M47.60,744.50 C53.40,744.50 59.12,747.06 65.00,749.90 C70.88,752.73 76.93,758.36 82.90,761.49 C88.87,764.63 95.12,766.89 100.80,768.69 C106.48,770.49 112.13,771.33 117.00,772.29 C121.87,773.26 124.50,773.79 130.00,774.49 C135.50,775.19 143.88,775.71 150.00,776.49 C156.12,777.28 160.03,778.84 166.70,779.19 C173.37,779.54 182.62,778.29 190.00,778.59 C197.38,778.89 204.95,780.31 211.00,780.99 C217.05,781.68 221.30,782.61 226.30,782.69 C231.30,782.78 236.72,782.18 241.00,781.49 C245.28,780.81 247.17,779.76 252.00,778.59 C256.83,777.43 264.50,777.26 270.00,774.49 C275.50,771.73 280.00,765.74 285.00,761.99 C290.00,758.24 295.00,754.50 300.00,752.00 C305.00,749.50 310.18,748.23 315.00,747.00 C319.82,745.76 326.58,745.00 328.90,744.60" stroke="#2a40f8" stroke-width="1.60"/>
<path d="M47.60,774.99 C53.57,774.99 61.10,774.59 65.50,773.99 C69.90,773.39 70.58,772.06 74.00,771.39 C77.42,770.73 81.67,770.06 86.00,769.99 C90.33,769.93 95.17,770.24 100.00,770.99 C104.83,771.74 108.33,773.66 115.00,774.49 C121.67,775.33 131.38,775.21 140.00,775.99 C148.62,776.78 158.37,778.76 166.70,779.19 C175.03,779.63 180.07,778.01 190.00,778.59 C199.93,779.18 214.63,781.46 226.30,782.69 C237.97,783.93 251.05,787.44 260.00,785.99 C268.95,784.54 273.67,777.99 280.00,773.99 C286.33,769.99 292.17,765.66 298.00,761.99 C303.83,758.33 309.85,754.61 315.00,752.00 C320.15,749.38 326.58,747.25 328.90,746.30" stroke="#2a40f8" stroke-width="1.60"/>
<path d="M47.60,784.89 C53.57,784.89 59.52,785.79 65.50,786.69 C71.48,787.59 77.50,789.99 83.50,790.29 C89.50,790.59 95.92,789.38 101.50,788.49 C107.08,787.61 110.58,785.44 117.00,784.99 C123.42,784.54 133.67,786.13 140.00,785.79 C146.33,785.46 150.55,784.09 155.00,782.99 C159.45,781.89 160.87,779.41 166.70,779.19 C172.53,778.98 182.62,780.73 190.00,781.69 C197.38,782.66 204.95,784.14 211.00,784.99 C217.05,785.84 219.80,786.79 226.30,786.79 C232.80,786.79 243.05,786.29 250.00,784.99 C256.95,783.69 261.33,780.58 268.00,778.99 C274.67,777.41 279.85,776.08 290.00,775.49 C300.15,774.91 322.42,775.49 328.90,775.49" stroke="#2a40f8" stroke-width="1.60"/>
<path d="M47.60,795.59 C53.57,795.59 59.52,794.52 65.50,795.59 C71.48,796.66 79.08,799.26 83.50,801.99 C87.92,804.72 90.58,810.32 92.00,811.99" stroke="#2a40f8" stroke-width="1.60"/>
<path d="M47.60,745.40 C52.20,745.40 57.02,748.41 61.40,750.80 C65.78,753.18 70.32,756.26 73.90,759.69 C77.48,763.13 79.90,767.79 82.90,771.39 C85.90,774.99 88.92,778.44 91.90,781.29 C94.88,784.14 96.95,787.24 100.80,788.49 C104.65,789.74 108.47,788.79 115.00,788.79 C121.53,788.79 131.38,788.49 140.00,788.49 C148.62,788.49 158.37,788.74 166.70,788.79 C175.03,788.84 182.62,788.34 190.00,788.79 C197.38,789.24 204.95,790.63 211.00,791.49 C217.05,792.36 219.80,793.91 226.30,793.99 C232.80,794.07 241.88,793.32 250.00,791.99 C258.12,790.66 266.67,787.16 275.00,785.99 C283.33,784.83 291.02,785.23 300.00,784.99 C308.98,784.76 324.08,784.66 328.90,784.59" stroke="#2a40f8" stroke-width="1.60"/>
<path d="M120.00,789.99 C122.50,793.66 132.50,808.32 135.00,811.99" stroke="#2a40f8" stroke-width="1.60"/>
<path d="M211.00,811.99 C212.17,809.99 215.45,802.66 218.00,799.99 C220.55,797.32 220.97,796.99 226.30,795.99 C231.63,794.99 241.88,794.49 250.00,793.99 C258.12,793.49 266.67,792.49 275.00,792.99 C283.33,793.49 293.33,796.49 300.00,796.99 C306.67,797.49 310.18,796.22 315.00,795.99 C319.82,795.76 326.58,795.66 328.90,795.59" stroke="#2a40f8" stroke-width="1.60"/>
<path d="M255.00,804.99 C256.67,804.32 261.13,802.41 265.00,800.99 C268.87,799.57 274.48,797.09 278.20,796.49 C281.92,795.89 284.27,797.31 287.30,797.39 C290.33,797.47 293.62,798.72 296.40,796.99 C299.18,795.26 301.27,790.83 304.00,786.99 C306.73,783.16 310.13,776.16 312.80,773.99 C315.47,771.83 317.32,773.74 320.00,773.99 C322.68,774.24 327.42,775.24 328.90,775.49" stroke="#2a40f8" stroke-width="1.60"/>
<path d="M255.00,811.99 C257.50,809.99 264.17,803.66 270.00,799.99 C275.83,796.32 282.50,792.33 290.00,789.99 C297.50,787.66 308.52,786.89 315.00,785.99 C321.48,785.09 326.58,784.83 328.90,784.59" stroke="#2a40f8" stroke-width="1.60"/>
<path d="M47.60,609.41 C50.73,609.41 53.77,607.99 57.00,607.51 C60.23,607.03 63.03,606.48 67.00,606.51 C70.97,606.54 76.43,606.74 80.80,607.71 C85.17,608.68 88.83,609.76 93.20,612.31 C97.57,614.86 102.70,618.39 107.00,623.01 C111.30,627.62 115.58,635.17 119.00,640.01 C122.42,644.84 124.45,647.97 127.50,652.01 C130.55,656.04 133.97,660.12 137.30,664.20 C140.63,668.29 144.08,672.45 147.50,676.50 C150.92,680.55 155.38,685.87 157.80,688.50 C160.22,691.13 160.50,691.37 162.00,692.30 C163.50,693.23 164.08,694.32 166.80,694.10 C169.52,693.88 174.68,692.53 178.30,691.00 C181.92,689.47 183.72,686.79 188.50,684.90 C193.28,683.02 200.65,680.57 207.00,679.70 C213.35,678.84 221.10,680.49 226.60,679.70 C232.10,678.92 236.10,676.70 240.00,675.00 C243.90,673.30 246.67,671.75 250.00,669.50 C253.33,667.25 256.00,664.75 260.00,661.50 C264.00,658.25 269.00,653.82 274.00,650.01 C279.00,646.19 285.67,641.27 290.00,638.61 C294.33,635.94 296.33,634.77 300.00,634.01 C303.67,633.24 308.03,633.34 312.00,634.01 C315.97,634.67 320.87,637.06 323.80,638.01 C326.73,638.96 327.67,639.71 329.60,639.71" stroke="#f81238" stroke-width="1.60"/>
<path d="M47.60,639.71 C49.73,639.71 51.93,637.09 54.00,635.61 C56.07,634.12 57.83,633.07 60.00,630.81 C62.17,628.54 64.67,624.81 67.00,622.01 C69.33,619.21 71.67,616.43 74.00,614.01 C76.33,611.59 78.75,609.51 81.00,607.51 C83.25,605.51 86.42,602.93 87.50,602.01" stroke="#f81238" stroke-width="1.60"/>
<path d="M194.80,601.01 C195.58,603.34 197.95,610.04 199.50,615.01 C201.05,619.98 202.60,626.31 204.10,630.81 C205.60,635.31 206.78,637.74 208.50,642.01 C210.22,646.27 212.48,653.09 214.40,656.40 C216.32,659.72 217.97,660.30 220.00,661.90 C222.03,663.50 223.60,665.85 226.60,666.00 C229.60,666.15 234.60,664.54 238.00,662.80 C241.40,661.07 244.00,658.59 247.00,655.60 C250.00,652.62 253.67,648.19 256.00,644.91 C258.33,641.62 258.67,639.72 261.00,635.91 C263.33,632.09 266.67,627.09 270.00,622.01 C273.33,616.93 278.75,608.74 281.00,605.41 C283.25,602.08 283.08,602.58 283.50,602.01" stroke="#f81238" stroke-width="1.60"/>
<path d="M214.00,601.01 C215.00,602.04 217.90,605.88 220.00,607.21 C222.10,608.54 223.60,609.16 226.60,609.01 C229.60,608.86 234.60,607.31 238.00,606.31 C241.40,605.31 245.50,603.56 247.00,603.01" stroke="#f81238" stroke-width="1.60"/>
<path d="M286.00,602.51 C287.50,602.56 292.12,602.73 295.00,602.81 C297.88,602.89 299.87,602.44 303.30,603.01 C306.73,603.58 311.22,605.14 315.60,606.21 C319.98,607.28 324.93,609.41 329.60,609.41" stroke="#f81238" stroke-width="1.60"/>
<path d="M47.60,678.20 C51.73,678.20 55.83,679.44 60.00,680.50 C64.17,681.57 68.43,682.94 72.60,684.60 C76.77,686.27 80.72,688.57 85.00,690.50 C89.28,692.43 93.97,694.37 98.30,696.20 C102.63,698.03 106.72,699.98 111.00,701.50 C115.28,703.02 119.17,704.75 124.00,705.30 C128.83,705.85 135.20,705.25 140.00,704.80 C144.80,704.35 148.33,703.32 152.80,702.60 C157.27,701.88 162.27,700.63 166.80,700.50 C171.33,700.37 175.92,701.45 180.00,701.80 C184.08,702.15 185.13,703.33 191.30,702.60 C197.47,701.87 211.12,698.68 217.00,697.40 C222.88,696.12 222.77,695.72 226.60,694.90 C230.43,694.08 236.02,692.93 240.00,692.50 C243.98,692.07 245.75,691.48 250.50,692.30 C255.25,693.12 262.52,695.68 268.50,697.40 C274.48,699.12 280.85,702.38 286.40,702.60 C291.95,702.82 297.87,700.47 301.80,698.70 C305.73,696.93 307.47,694.35 310.00,692.00 C312.53,689.65 313.73,686.90 317.00,684.60 C320.27,682.30 325.40,678.20 329.60,678.20" stroke="#f81238" stroke-width="1.60"/>
<path d="M47.60,678.20 C51.07,678.20 54.60,678.99 58.00,680.00 C61.40,681.02 64.33,682.39 68.00,684.30 C71.67,686.22 76.33,689.63 80.00,691.50 C83.67,693.37 85.67,694.92 90.00,695.50 C94.33,696.08 100.33,695.67 106.00,695.00 C111.67,694.33 118.78,691.97 124.00,691.50 C129.22,691.03 133.38,691.77 137.30,692.20 C141.22,692.63 144.22,693.22 147.50,694.10 C150.78,694.98 153.78,696.47 157.00,697.50 C160.22,698.53 163.25,700.38 166.80,700.30 C170.35,700.22 174.22,698.33 178.30,697.00 C182.38,695.67 186.52,693.63 191.30,692.30 C196.08,690.97 202.72,689.85 207.00,689.00 C211.28,688.15 213.73,687.67 217.00,687.20 C220.27,686.74 222.77,686.42 226.60,686.20 C230.43,685.99 230.88,686.17 240.00,685.90 C249.12,685.64 270.13,685.45 281.30,684.60 C292.47,683.75 298.95,681.87 307.00,680.80 C315.05,679.74 322.07,678.20 329.60,678.20" stroke="#f81238" stroke-width="1.60"/>
<path d="M47.60,735.90 C55.73,735.90 66.10,736.55 72.00,737.00 C77.90,737.45 78.33,738.01 83.00,738.60 C87.67,739.18 95.50,739.93 100.00,740.50 C104.50,741.06 104.92,741.58 110.00,742.00 C115.08,742.41 125.37,743.66 130.50,743.00 C135.63,742.33 137.38,741.06 140.80,738.00 C144.22,734.93 148.13,728.10 151.00,724.60 C153.87,721.10 155.37,719.05 158.00,717.00 C160.63,714.95 163.97,712.47 166.80,712.30 C169.63,712.13 171.97,714.38 175.00,716.00 C178.03,717.62 181.50,719.83 185.00,722.00 C188.50,724.16 192.58,726.85 196.00,729.00 C199.42,731.15 200.50,733.06 205.50,734.90 C210.50,736.73 220.92,738.65 226.00,740.00 C231.08,741.35 232.58,741.11 236.00,743.00 C239.42,744.88 243.33,750.46 246.50,751.30 C249.67,752.13 250.33,748.96 255.00,748.00 C259.67,747.03 268.00,747.13 274.50,745.50 C281.00,743.86 287.58,739.70 294.00,738.20 C300.42,736.70 307.07,736.86 313.00,736.50 C318.93,736.13 324.07,736.00 329.60,736.00" stroke="#f81238" stroke-width="1.60"/>
<path d="M47.60,736.50 C56.40,736.50 64.60,738.00 74.00,739.00 C83.40,740.00 96.83,741.25 104.00,742.50 C111.17,743.75 112.58,745.20 117.00,746.50 C121.42,747.80 126.53,750.01 130.50,750.30 C134.47,750.58 134.75,748.55 140.80,748.20 C146.85,747.85 159.43,748.03 166.80,748.20 C174.17,748.36 178.63,748.85 185.00,749.20 C191.37,749.55 198.07,749.95 205.00,750.30 C211.93,750.65 219.60,751.68 226.60,751.30 C233.60,750.91 240.10,749.55 247.00,748.00 C253.90,746.45 260.83,743.83 268.00,742.00 C275.17,740.16 283.00,738.00 290.00,737.00 C297.00,736.00 303.40,736.16 310.00,736.00 C316.60,735.83 323.07,736.00 329.60,736.00" stroke="#f81238" stroke-width="1.60"/>
<path d="M110.00,756.40 C113.42,755.88 123.83,754.53 130.50,753.30 C137.17,752.06 143.95,749.85 150.00,749.00 C156.05,748.15 160.13,748.36 166.80,748.20 C173.47,748.03 182.80,747.95 190.00,748.00 C197.20,748.05 203.90,747.95 210.00,748.50 C216.10,749.05 220.77,749.71 226.60,751.30 C232.43,752.88 238.60,756.38 245.00,758.00 C251.40,759.61 257.50,760.74 265.00,760.99 C272.50,761.24 282.50,760.33 290.00,759.49 C297.50,758.66 303.40,756.81 310.00,756.00 C316.60,755.18 323.07,754.60 329.60,754.60" stroke="#f81238" stroke-width="1.60"/>
<path d="M110.00,768.69 C113.42,767.16 123.83,761.71 130.50,759.49 C137.17,757.28 143.95,755.75 150.00,755.40 C156.05,755.05 160.13,757.08 166.80,757.40 C173.47,757.71 183.47,756.95 190.00,757.30 C196.53,757.65 199.90,758.84 206.00,759.49 C212.10,760.14 220.77,760.78 226.60,761.19 C232.43,761.61 236.93,760.98 241.00,761.99 C245.07,763.01 247.83,765.46 251.00,767.29 C254.17,769.13 255.50,771.54 260.00,772.99 C264.50,774.44 272.00,776.49 278.00,775.99 C284.00,775.49 287.40,771.29 296.00,769.99 C304.60,768.69 318.40,768.19 329.60,768.19" stroke="#f81238" stroke-width="1.60"/>
<path d="M52.40,748.10 C53.90,750.03 58.72,755.36 61.40,759.69 C64.08,764.03 66.42,769.89 68.50,774.09 C70.58,778.29 71.50,781.01 73.90,784.89 C76.30,788.78 79.90,792.87 82.90,797.39 C85.90,801.91 90.40,809.56 91.90,811.99" stroke="#f81238" stroke-width="1.60"/>
<path d="M52.00,802.99 C54.17,803.56 61.05,804.89 65.00,806.39 C68.95,807.89 73.92,811.06 75.70,811.99" stroke="#f81238" stroke-width="1.60"/>
<path d="M47.60,747.20 C50.40,747.20 53.10,748.71 56.00,751.70 C58.90,754.68 62.32,760.46 65.00,765.09 C67.68,769.73 69.72,775.29 72.10,779.49 C74.48,783.69 76.90,787.89 79.30,790.29 C81.70,792.69 83.50,793.61 86.50,793.89 C89.50,794.17 94.32,793.19 97.30,791.99 C100.28,790.79 101.12,788.18 104.40,786.69 C107.68,785.21 112.73,783.21 117.00,783.09 C121.27,782.98 126.17,785.21 130.00,785.99 C133.83,786.78 135.67,785.96 140.00,787.79 C144.33,789.63 151.55,794.76 156.00,796.99 C160.45,799.22 161.87,799.69 166.70,801.19 C171.53,802.69 178.62,804.19 185.00,805.99 C191.38,807.79 201.67,810.99 205.00,811.99" stroke="#f81238" stroke-width="1.60"/>
<path d="M47.60,754.40 C59.40,754.40 71.43,756.48 83.00,757.00 C94.57,757.51 103.05,757.41 117.00,757.50 C130.95,757.58 154.53,757.58 166.70,757.50 C178.87,757.41 182.62,756.66 190.00,757.00 C197.38,757.33 204.95,758.79 211.00,759.49 C217.05,760.19 221.30,760.78 226.30,761.19 C231.30,761.61 236.72,760.98 241.00,761.99 C245.28,763.01 247.17,765.29 252.00,767.29 C256.83,769.29 263.67,772.71 270.00,773.99 C276.33,775.28 283.33,775.66 290.00,774.99 C296.67,774.33 303.52,771.13 310.00,769.99 C316.48,768.86 325.75,768.49 328.90,768.19" stroke="#f81238" stroke-width="1.60"/>
<path d="M47.60,758.79 C53.57,758.79 59.52,760.74 65.50,761.49 C71.48,762.24 77.50,762.38 83.50,763.29 C89.50,764.21 95.92,765.71 101.50,766.99 C107.08,768.28 110.58,769.16 117.00,770.99 C123.42,772.83 131.72,775.99 140.00,777.99 C148.28,779.99 158.37,779.49 166.70,782.99 C175.03,786.49 182.62,796.16 190.00,798.99 C197.38,801.82 204.95,800.49 211.00,799.99 C217.05,799.49 219.80,797.66 226.30,795.99 C232.80,794.32 241.05,792.66 250.00,789.99 C258.95,787.33 271.67,784.16 280.00,779.99 C288.33,775.83 294.17,768.99 300.00,764.99 C305.83,760.99 310.18,757.73 315.00,756.00 C319.82,754.26 326.58,754.83 328.90,754.60" stroke="#f81238" stroke-width="1.60"/>
<path d="M47.60,766.99 C53.57,766.99 59.52,765.56 65.50,765.99 C71.48,766.43 77.58,768.09 83.50,769.59 C89.42,771.09 94.92,772.43 101.00,774.99 C107.08,777.56 113.50,782.16 120.00,784.99 C126.50,787.83 132.22,789.29 140.00,791.99 C147.78,794.69 159.20,800.19 166.70,801.19 C174.20,802.19 177.62,798.77 185.00,797.99 C192.38,797.21 204.12,796.57 211.00,796.49 C217.88,796.41 219.47,798.41 226.30,797.49 C233.13,796.57 243.88,793.57 252.00,790.99 C260.12,788.41 267.83,786.83 275.00,781.99 C282.17,777.16 288.83,767.49 295.00,761.99 C301.17,756.50 306.35,751.30 312.00,749.00 C317.65,746.70 326.08,748.33 328.90,748.20" stroke="#f81238" stroke-width="1.60"/>
<path d="M47.60,800.99 C53.57,800.99 59.52,800.69 65.50,800.99 C71.48,801.29 77.50,801.62 83.50,802.79 C89.50,803.96 97.92,806.46 101.50,807.99 C105.08,809.52 104.42,811.32 105.00,811.99" stroke="#f81238" stroke-width="1.60"/>
<path d="M143.00,811.99 C145.17,810.66 152.05,805.79 156.00,803.99 C159.95,802.19 161.03,801.69 166.70,801.19 C172.37,800.69 180.07,801.36 190.00,800.99 C199.93,800.62 214.63,798.99 226.30,798.99 C237.97,798.99 242.90,800.66 260.00,800.99 C277.10,801.32 317.42,800.99 328.90,800.99" stroke="#f81238" stroke-width="1.60"/>
<path d="M217.00,811.99 C217.83,810.49 220.45,804.99 222.00,802.99 C223.55,800.99 221.63,800.41 226.30,799.99 C230.97,799.57 239.38,800.16 250.00,800.49 C260.62,800.82 276.85,801.91 290.00,801.99 C303.15,802.07 322.42,801.16 328.90,800.99" stroke="#f81238" stroke-width="1.60"/>
<path d="M287.00,811.99 C288.50,809.16 293.00,800.92 296.00,794.99 C299.00,789.06 301.83,781.01 305.00,776.39 C308.17,771.78 311.02,768.66 315.00,767.29 C318.98,765.93 326.58,768.04 328.90,768.19" stroke="#f81238" stroke-width="1.60"/>
<path d="M255.00,781.99 C256.67,782.58 261.73,784.16 265.00,785.49 C268.27,786.83 270.27,788.63 274.60,789.99 C278.93,791.36 286.77,793.82 291.00,793.69 C295.23,793.56 297.27,792.08 300.00,789.19 C302.73,786.31 304.97,779.84 307.40,776.39 C309.83,772.94 313.40,769.81 314.60,768.49" stroke="#f81238" stroke-width="1.60"/>
<path d="M300.00,811.99 C302.50,810.57 310.18,805.32 315.00,803.49 C319.82,801.66 326.58,801.41 328.90,800.99" stroke="#f81238" stroke-width="1.60"/>
</g>
<line x1="166.77" y1="603.20" x2="166.77" y2="809.70" stroke="#4d5959" stroke-width="1.8"/>
<line x1="226.39" y1="603.20" x2="226.39" y2="809.70" stroke="#111" stroke-width="1.25"/>
<line x1="47.60" y1="706.45" x2="329.60" y2="706.45" stroke="#262626" stroke-width="1.3" stroke-dasharray="3.1,1.85" stroke-dashoffset="-0.3"/>
<g font-family='"Liberation Sans", sans-serif' fill="#000">
<rect x="47.60" y="603.20" width="282.00" height="206.50" fill="none" stroke="#555c5c" stroke-width="1.2"/>
<line x1="43.10" y1="809.70" x2="47.60" y2="809.70" stroke="#111" stroke-width="1.1"/>
<text x="39.30" y="814.10" text-anchor="end" font-size="12.5" stroke="#000" stroke-width="0.25">3</text>
<line x1="22.60" y1="810.80" x2="30.70" y2="810.80" stroke="#111" stroke-width="1.25"/>
<line x1="43.10" y1="775.28" x2="47.60" y2="775.28" stroke="#111" stroke-width="1.1"/>
<text x="39.30" y="779.68" text-anchor="end" font-size="12.5" stroke="#000" stroke-width="0.25">2</text>
<line x1="22.60" y1="776.38" x2="30.70" y2="776.38" stroke="#111" stroke-width="1.25"/>
<line x1="43.10" y1="740.87" x2="47.60" y2="740.87" stroke="#111" stroke-width="1.1"/>
<text x="39.30" y="745.27" text-anchor="end" font-size="12.5" stroke="#000" stroke-width="0.25">1</text>
<line x1="22.60" y1="741.97" x2="30.70" y2="741.97" stroke="#111" stroke-width="1.25"/>
<line x1="43.10" y1="706.45" x2="47.60" y2="706.45" stroke="#111" stroke-width="1.1"/>
<text x="39.30" y="710.85" text-anchor="end" font-size="12.5" stroke="#000" stroke-width="0.25">0</text>
<line x1="43.10" y1="672.03" x2="47.60" y2="672.03" stroke="#111" stroke-width="1.1"/>
<text x="39.30" y="676.43" text-anchor="end" font-size="12.5" stroke="#000" stroke-width="0.25">1</text>
<line x1="43.10" y1="637.62" x2="47.60" y2="637.62" stroke="#111" stroke-width="1.1"/>
<text x="39.30" y="642.02" text-anchor="end" font-size="12.5" stroke="#000" stroke-width="0.25">2</text>
<line x1="43.10" y1="603.20" x2="47.60" y2="603.20" stroke="#111" stroke-width="1.1"/>
<text x="39.30" y="607.60" text-anchor="end" font-size="12.5" stroke="#000" stroke-width="0.25">3</text>
<line x1="47.60" y1="809.70" x2="47.60" y2="814.20" stroke="#111" stroke-width="1.1"/>
<text x="48.10" y="830.40" text-anchor="middle" font-size="18">Γ</text>
<line x1="166.77" y1="809.70" x2="166.77" y2="814.20" stroke="#111" stroke-width="1.1"/>
<text x="167.27" y="830.40" text-anchor="middle" font-size="18">K</text>
<line x1="226.39" y1="809.70" x2="226.39" y2="814.20" stroke="#111" stroke-width="1.1"/>
<text x="226.89" y="830.40" text-anchor="middle" font-size="18" textLength="18.6" lengthAdjust="spacingAndGlyphs">M</text>
<line x1="329.60" y1="809.70" x2="329.60" y2="814.20" stroke="#111" stroke-width="1.1"/>
<text x="330.10" y="830.40" text-anchor="middle" font-size="18">Γ</text>
<text transform="translate(15.10,706.45) rotate(-90)" x="-35.2" font-size="15" font-weight="bold" textLength="70.4" lengthAdjust="spacingAndGlyphs">E-E<tspan font-size="10" font-style="italic" font-weight="normal" dy="2.5">F</tspan><tspan dy="-2.5"> (eV)</tspan></text>
</g>
<g font-family='"Liberation Sans", sans-serif' fill="#000">
<rect x="271.30" y="40.70" width="61.50" height="39.60" rx="2.5" fill="#fff" fill-opacity="0.97" stroke="#d4d4d4" stroke-width="0.9"/>
<line x1="275.40" y1="50.70" x2="302.00" y2="50.70" stroke="#2a40f8" stroke-width="1.6"/>
<line x1="275.40" y1="69.00" x2="302.00" y2="69.00" stroke="#f81238" stroke-width="1.6"/>
<path d="M319.30,54.30 V46.60 M317.00,48.90 L319.30,46.50 L321.60,48.90" stroke="#111" stroke-width="1.35" fill="none" stroke-linecap="round" stroke-linejoin="round"/>
<path d="M319.30,64.60 V72.30 M317.00,70.00 L319.30,72.40 L321.60,70.00" stroke="#111" stroke-width="1.35" fill="none" stroke-linecap="round" stroke-linejoin="round"/>
<rect x="262.00" y="609.50" width="61.20" height="39.50" rx="2.5" fill="#fff" fill-opacity="0.97" stroke="#d4d4d4" stroke-width="0.9"/>
<line x1="266.60" y1="619.60" x2="293.20" y2="619.60" stroke="#2a40f8" stroke-width="1.6"/>
<line x1="266.60" y1="637.40" x2="293.20" y2="637.40" stroke="#f81238" stroke-width="1.6"/>
<path d="M310.20,623.20 V615.50 M307.90,617.80 L310.20,615.40 L312.50,617.80" stroke="#111" stroke-width="1.35" fill="none" stroke-linecap="round" stroke-linejoin="round"/>
<path d="M310.20,633.00 V640.70 M307.90,638.40 L310.20,640.80 L312.50,638.40" stroke="#111" stroke-width="1.35" fill="none" stroke-linecap="round" stroke-linejoin="round"/>
</g>
<defs><linearGradient id="cbg" x1="0" y1="0" x2="0" y2="1"><stop offset="0.000" stop-color="#2a3ad8"/><stop offset="0.060" stop-color="#3a50d8"/><stop offset="0.090" stop-color="#5070b0"/><stop offset="0.120" stop-color="#5a7aa0"/><stop offset="0.170" stop-color="#6a9ad8"/><stop offset="0.260" stop-color="#70b8e0"/><stop offset="0.300" stop-color="#80d0e0"/><stop offset="0.380" stop-color="#c0ecee"/><stop offset="0.460" stop-color="#f0f0c0"/><stop offset="0.500" stop-color="#f6f0b0"/><stop offset="0.600" stop-color="#f0dc88"/><stop offset="0.640" stop-color="#e8b478"/><stop offset="0.680" stop-color="#e89a98"/><stop offset="0.740" stop-color="#f07080"/><stop offset="0.800" stop-color="#f03850"/><stop offset="0.860" stop-color="#e82038"/><stop offset="0.920" stop-color="#c01030"/><stop offset="0.970" stop-color="#a01840"/><stop offset="1.000" stop-color="#902050"/></linearGradient></defs>
<rect x="293.20" y="320.30" width="10.80" height="206.50" fill="url(#cbg)" stroke="#555" stroke-width="0.8"/>
<g font-family='"Liberation Sans", sans-serif' fill="#111">
<line x1="304" y1="340.95" x2="306.8" y2="340.95" stroke="#111" stroke-width="0.9"/>
<text x="309.8" y="344.45" font-size="9.6" stroke="#111" stroke-width="0.2">0.4</text>
<line x1="304" y1="382.25" x2="306.8" y2="382.25" stroke="#111" stroke-width="0.9"/>
<text x="309.8" y="385.75" font-size="9.6" stroke="#111" stroke-width="0.2">0.2</text>
<line x1="304" y1="423.55" x2="306.8" y2="423.55" stroke="#111" stroke-width="0.9"/>
<text x="309.8" y="427.05" font-size="9.6" stroke="#111" stroke-width="0.2">0.0</text>
<line x1="304" y1="464.85" x2="306.8" y2="464.85" stroke="#111" stroke-width="0.9"/>
<text x="309.8" y="468.35" font-size="9.6" stroke="#111" stroke-width="0.2">−0.2</text>
<line x1="304" y1="506.15" x2="306.8" y2="506.15" stroke="#111" stroke-width="0.9"/>
<text x="309.8" y="509.65" font-size="9.6" stroke="#111" stroke-width="0.2">−0.4</text>
<text transform="translate(341.5,430.5) rotate(-90)" font-size="14.5" font-style="italic" stroke="#111" stroke-width="0.35">S<tspan font-size="10.5" dy="3.5">z</tspan></text>
</g>
</svg></body></html>
